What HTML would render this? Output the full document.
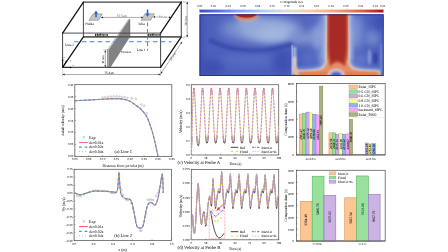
<!DOCTYPE html>
<html lang="en"><head><meta charset="utf-8"><title>Figure</title>
<style>html,body{margin:0;padding:0;background:#fff;overflow:hidden}svg{display:block}</style></head>
<body>
<svg width="448" height="252" viewBox="0 0 448 252" font-family='"Liberation Serif", serif' text-rendering="geometricPrecision">
<defs>
<clipPath id="hm"><rect x="199.5" y="14.3" width="184.2" height="61.6"/></clipPath>
<filter id="b05" x="-50%" y="-50%" width="200%" height="200%"><feGaussianBlur stdDeviation="0.5"/></filter>
<filter id="b1" x="-50%" y="-50%" width="200%" height="200%"><feGaussianBlur stdDeviation="1"/></filter>
<filter id="b15" x="-50%" y="-50%" width="200%" height="200%"><feGaussianBlur stdDeviation="1.5"/></filter>
<filter id="b2" x="-50%" y="-50%" width="200%" height="200%"><feGaussianBlur stdDeviation="2"/></filter>
<filter id="b3" x="-50%" y="-50%" width="200%" height="200%"><feGaussianBlur stdDeviation="3"/></filter>
<filter id="b4" x="-50%" y="-50%" width="200%" height="200%"><feGaussianBlur stdDeviation="4"/></filter>
<filter id="b6" x="-50%" y="-50%" width="200%" height="200%"><feGaussianBlur stdDeviation="6"/></filter>
<linearGradient id="cw" x1="0" x2="1" y1="0" y2="0">
<stop offset="0" stop-color="#3b4cc0"/><stop offset="0.1" stop-color="#5572df"/><stop offset="0.2" stop-color="#7b9ff9"/>
<stop offset="0.3" stop-color="#9ebeff"/><stop offset="0.4" stop-color="#c0d4f5"/><stop offset="0.5" stop-color="#dddcdc"/>
<stop offset="0.6" stop-color="#f2cbb7"/><stop offset="0.7" stop-color="#f7ac8e"/><stop offset="0.8" stop-color="#ee8468"/>
<stop offset="0.9" stop-color="#d65244"/><stop offset="1" stop-color="#b40426"/></linearGradient>
</defs>
<rect width="448" height="252" fill="#fff"/>
<line x1="83.40" y1="2.10" x2="83.40" y2="36.90" stroke="#333" stroke-width="0.9"/>
<line x1="83.40" y1="36.90" x2="181.30" y2="36.90" stroke="#3a3a3a" stroke-width="1.0"/>
<path d="M107.70 67.40L107.70 49.60L128.50 19.50L130.00 19.50L130.00 36.40L110.20 67.40Z" fill="#828282" stroke="#5a5a5a" stroke-width="0.35"/>
<path d="M107.70 67.40L107.70 49.60L128.50 19.50L129.10 19.70L108.60 49.90L108.60 67.40Z" fill="#d8d8d8"/>
<line x1="107.70" y1="67.40" x2="107.70" y2="49.60" stroke="#444" stroke-width="0.4"/>
<line x1="83.40" y1="36.90" x2="181.30" y2="36.90" stroke="#3a3a3a" stroke-width="0.9"/>
<line x1="83.40" y1="2.10" x2="181.30" y2="2.10" stroke="#444" stroke-width="1.15" stroke-linecap="round"/>
<line x1="62.60" y1="33.10" x2="160.60" y2="33.10" stroke="#484848" stroke-width="0.95" stroke-linecap="round"/>
<line x1="62.60" y1="33.10" x2="62.60" y2="67.40" stroke="#404040" stroke-width="1.0" stroke-linecap="round"/>
<line x1="160.60" y1="33.10" x2="160.60" y2="67.40" stroke="#484848" stroke-width="1.0" stroke-linecap="round"/>
<line x1="62.60" y1="67.40" x2="160.60" y2="67.40" stroke="#505050" stroke-width="1.1" stroke-linecap="round"/>
<line x1="181.30" y1="2.10" x2="181.30" y2="36.90" stroke="#4c4c4c" stroke-width="1.1" stroke-linecap="round"/>
<line x1="83.40" y1="2.10" x2="62.60" y2="33.10" stroke="#111" stroke-width="1.25" stroke-linecap="round"/>
<line x1="181.30" y1="2.10" x2="160.60" y2="33.10" stroke="#111" stroke-width="1.25" stroke-linecap="round"/>
<line x1="160.60" y1="67.40" x2="181.30" y2="36.90" stroke="#111" stroke-width="1.25" stroke-linecap="round"/>
<line x1="62.60" y1="67.40" x2="83.40" y2="36.90" stroke="#111" stroke-width="1.25" stroke-linecap="round"/>
<line x1="73.90" y1="41.70" x2="171.60" y2="41.70" stroke="#4a82dc" stroke-width="1.1" stroke-dasharray="4.6 3.3"/>
<line x1="147.50" y1="22.40" x2="147.50" y2="50.60" stroke="#4a82dc" stroke-width="1.0" stroke-dasharray="4.0 2.6"/>
<path d="M88.90 20.30L92.90 13.90L102.40 13.90L98.40 20.30Z" fill="#c6c6c6" stroke="#777" stroke-width="0.5"/>
<path d="M141.00 20.20L145.00 13.80L154.50 13.80L150.50 20.20Z" fill="#c6c6c6" stroke="#777" stroke-width="0.5"/>
<path d="M96.0 17.3V13.2" stroke="#1f62d0" stroke-width="1.5"/><path d="M94.0 13.8L96.0 10.6L98.0 13.8Z" fill="#1f62d0"/>
<path d="M147.5 9.5V13.8" stroke="#1f62d0" stroke-width="1.5"/><path d="M145.5 13.4L147.5 16.9L149.5 13.4Z" fill="#1f62d0"/>
<text x="89.60" y="25.40" font-size="3.4" text-anchor="middle" fill="#2a2a2a" stroke="#2a2a2a" stroke-width="0.05">Outlet</text>
<text x="141.60" y="25.40" font-size="3.4" text-anchor="middle" fill="#2a2a2a" stroke="#2a2a2a" stroke-width="0.05">Inlet</text>
<line x1="101.20" y1="17.40" x2="143.00" y2="17.40" stroke="#444" stroke-width="0.45"/>
<line x1="154.20" y1="17.00" x2="156.40" y2="17.00" stroke="#444" stroke-width="0.45"/>
<line x1="167.60" y1="17.30" x2="170.60" y2="17.30" stroke="#444" stroke-width="0.45"/>
<path d="M101.0 17.4l2.0 -0.9v1.8zM143.2 17.4l-2.0 -0.9v1.8zM153.0 17.0l2.0 -0.9v1.8zM171.0 17.4l-2.0 -0.9v1.8z" fill="#222"/>
<text x="121.80" y="17.00" font-size="3.4" text-anchor="middle" fill="#3a3a3a">37.5cm</text>
<text x="162.00" y="17.50" font-size="3.4" text-anchor="middle" fill="#3a3a3a">19.0cm</text>
<line x1="187.20" y1="2.10" x2="187.20" y2="36.90" stroke="#444" stroke-width="0.45"/>
<line x1="183.00" y1="2.10" x2="188.60" y2="2.10" stroke="#555" stroke-width="0.35"/>
<line x1="183.00" y1="36.90" x2="188.60" y2="36.90" stroke="#555" stroke-width="0.35"/>
<path d="M187.2 2.1l-0.9 2.0h1.8zM187.2 36.9l-0.9 -2.0h1.8z" fill="#222"/>
<text x="186.60" y="20.80" font-size="3.3" text-anchor="middle" fill="#3a3a3a" transform="rotate(-90 186.60 20.80)">30.5cm</text>
<rect x="95.0" y="34.1" width="12.8" height="1.9" fill="#2a2a2a"/><rect x="147.6" y="34.1" width="12.5" height="1.9" fill="#2a2a2a"/>
<text x="101.40" y="36.20" font-size="3.7" text-anchor="middle" fill="#fff" stroke="#2a2a2a" stroke-width="0.7" paint-order="stroke" font-weight="bold">15.2cm</text>
<text x="153.90" y="36.20" font-size="3.7" text-anchor="middle" fill="#fff" stroke="#2a2a2a" stroke-width="0.7" paint-order="stroke" font-weight="bold">15.2cm</text>
<text x="69.60" y="46.30" font-size="3.3" text-anchor="middle" fill="#2a2a2a" stroke="#2a2a2a" stroke-width="0.05">Line 2</text>
<text x="141.00" y="50.90" font-size="3.3" text-anchor="middle" fill="#2a2a2a" stroke="#2a2a2a" stroke-width="0.05">Line 1</text>
<text x="126.30" y="52.50" font-size="2.9" text-anchor="middle" fill="#2a2a2a" stroke="#2a2a2a" stroke-width="0.05">Partition</text>
<line x1="105.30" y1="50.60" x2="105.30" y2="66.80" stroke="#444" stroke-width="0.45"/>
<line x1="103.40" y1="49.80" x2="107.40" y2="49.80" stroke="#555" stroke-width="0.35"/>
<path d="M105.3 50.2l-0.9 2.0h1.8zM105.3 67.2l-0.9 -2.0h1.8z" fill="#222"/>
<text x="104.00" y="59.40" font-size="2.8" text-anchor="middle" fill="#2a2a2a" transform="rotate(-90 104.00 59.40)" stroke="#2a2a2a" stroke-width="0.05">17.5cm</text>
<path d="M62.6 67.4V60M62.6 67.4H70.4M62.6 67.4L66.4 61.4" stroke="#111" stroke-width="0.7" fill="none"/>
<path d="M62.6 58.6l-1.0 2.0h2.0zM72.0 67.4l-2.0 -1.0v2.0zM67.1 60.3l-1.9 1.2l1.5 1.0z" fill="#111"/>
<text x="64.00" y="58.40" font-size="2.4" text-anchor="middle" fill="#2a2a2a" stroke="#2a2a2a" stroke-width="0.05">z</text>
<text x="70.40" y="60.80" font-size="2.4" text-anchor="middle" fill="#2a2a2a" stroke="#2a2a2a" stroke-width="0.05">y</text>
<text x="73.00" y="65.80" font-size="2.4" text-anchor="middle" fill="#2a2a2a" stroke="#2a2a2a" stroke-width="0.05">x</text>
<line x1="62.60" y1="69.00" x2="62.60" y2="76.40" stroke="#888" stroke-width="0.35"/>
<line x1="160.60" y1="69.00" x2="160.60" y2="76.40" stroke="#888" stroke-width="0.35"/>
<line x1="62.60" y1="74.50" x2="160.60" y2="74.50" stroke="#444" stroke-width="0.45"/>
<path d="M62.6 74.5l2.0 -0.9v1.8zM160.6 74.5l-2.0 -0.9v1.8z" fill="#222"/>
<text x="109.30" y="74.20" font-size="3.3" text-anchor="middle" fill="#2a2a2a" stroke="#2a2a2a" stroke-width="0.05">75.4cm</text>
<line x1="160.80" y1="73.70" x2="182.00" y2="41.80" stroke="#444" stroke-width="0.45"/>
<line x1="181.30" y1="36.90" x2="184.60" y2="39.00" stroke="#666" stroke-width="0.3"/>
<path d="M160.8 73.7l0.3 -2.2l1.5 1.0zM182.0 41.8l-0.3 2.2l-1.5 -1.0z" fill="#222"/>
<text x="173.60" y="57.00" font-size="3.2" text-anchor="middle" fill="#3a3a3a" transform="rotate(-56 173.60 57.00)">30.5cm</text>
<text x="291.50" y="3.40" font-size="3.2" text-anchor="middle" fill="#333" stroke="#333" stroke-width="0.05">U Magnitude m/s</text>
<text x="199.70" y="6.75" font-size="2.95" text-anchor="middle" fill="#333" stroke="#333" stroke-width="0.05">0.00</text>
<line x1="199.50" y1="8.60" x2="199.50" y2="9.60" stroke="#666" stroke-width="0.3"/>
<text x="213.42" y="6.75" font-size="2.95" text-anchor="middle" fill="#333" stroke="#333" stroke-width="0.05">0.02</text>
<line x1="214.22" y1="8.60" x2="214.22" y2="9.60" stroke="#666" stroke-width="0.3"/>
<text x="228.14" y="6.75" font-size="2.95" text-anchor="middle" fill="#333" stroke="#333" stroke-width="0.05">0.04</text>
<line x1="228.94" y1="8.60" x2="228.94" y2="9.60" stroke="#666" stroke-width="0.3"/>
<text x="242.86" y="6.75" font-size="2.95" text-anchor="middle" fill="#333" stroke="#333" stroke-width="0.05">0.06</text>
<line x1="243.66" y1="8.60" x2="243.66" y2="9.60" stroke="#666" stroke-width="0.3"/>
<text x="257.58" y="6.75" font-size="2.95" text-anchor="middle" fill="#333" stroke="#333" stroke-width="0.05">0.08</text>
<line x1="258.38" y1="8.60" x2="258.38" y2="9.60" stroke="#666" stroke-width="0.3"/>
<text x="272.30" y="6.75" font-size="2.95" text-anchor="middle" fill="#333" stroke="#333" stroke-width="0.05">0.10</text>
<line x1="273.10" y1="8.60" x2="273.10" y2="9.60" stroke="#666" stroke-width="0.3"/>
<text x="287.02" y="6.75" font-size="2.95" text-anchor="middle" fill="#333" stroke="#333" stroke-width="0.05">0.12</text>
<line x1="287.82" y1="8.60" x2="287.82" y2="9.60" stroke="#666" stroke-width="0.3"/>
<text x="301.74" y="6.75" font-size="2.95" text-anchor="middle" fill="#333" stroke="#333" stroke-width="0.05">0.14</text>
<line x1="302.54" y1="8.60" x2="302.54" y2="9.60" stroke="#666" stroke-width="0.3"/>
<text x="316.46" y="6.75" font-size="2.95" text-anchor="middle" fill="#333" stroke="#333" stroke-width="0.05">0.16</text>
<line x1="317.26" y1="8.60" x2="317.26" y2="9.60" stroke="#666" stroke-width="0.3"/>
<text x="331.18" y="6.75" font-size="2.95" text-anchor="middle" fill="#333" stroke="#333" stroke-width="0.05">0.18</text>
<line x1="331.98" y1="8.60" x2="331.98" y2="9.60" stroke="#666" stroke-width="0.3"/>
<text x="345.90" y="6.75" font-size="2.95" text-anchor="middle" fill="#333" stroke="#333" stroke-width="0.05">0.20</text>
<line x1="346.70" y1="8.60" x2="346.70" y2="9.60" stroke="#666" stroke-width="0.3"/>
<text x="360.62" y="6.75" font-size="2.95" text-anchor="middle" fill="#333" stroke="#333" stroke-width="0.05">0.22</text>
<line x1="361.42" y1="8.60" x2="361.42" y2="9.60" stroke="#666" stroke-width="0.3"/>
<text x="375.34" y="6.75" font-size="2.95" text-anchor="middle" fill="#333" stroke="#333" stroke-width="0.05">0.24</text>
<line x1="376.14" y1="8.60" x2="376.14" y2="9.60" stroke="#666" stroke-width="0.3"/>
<text x="382.60" y="6.75" font-size="2.95" text-anchor="middle" fill="#333" stroke="#333" stroke-width="0.05">0.25</text>
<rect x="199.5" y="9.6" width="184" height="2.9" fill="url(#cw)"/>
<g clip-path="url(#hm)">
<rect x="199" y="14" width="185" height="62" fill="#4c60bc"/>
<ellipse cx="262" cy="29" rx="42" ry="12" fill="#8095d2" filter="url(#b6)"/>
<ellipse cx="268" cy="30" rx="30" ry="9" fill="#8ea2d8" filter="url(#b4)"/>
<ellipse cx="268" cy="31" rx="22" ry="9" fill="#9aaddc" filter="url(#b4)"/>
<ellipse cx="274" cy="34" rx="16" ry="6" fill="#a3b5e0" filter="url(#b3)"/>
<ellipse cx="250" cy="22" rx="12" ry="7" fill="#93a6d8" filter="url(#b3)"/>
<ellipse cx="303" cy="38" rx="16" ry="6" fill="#8497d2" filter="url(#b4)"/>
<path d="M209 40Q250 60 292 44" stroke="#3a4cae" stroke-width="4.5" fill="none" filter="url(#b15)"/>
<ellipse cx="250" cy="60" rx="32" ry="5" fill="#5a70c4" filter="url(#b4)"/>
<ellipse cx="210" cy="68" rx="14" ry="8" fill="#3c4eb0" filter="url(#b4)"/>
<rect x="196" y="14" width="7" height="62" fill="#3f51b4" filter="url(#b3)"/>
<ellipse cx="282" cy="62" rx="10" ry="12" fill="#3d4fb2" filter="url(#b4)"/>
<ellipse cx="318" cy="34" rx="7" ry="18" fill="#8a9ed8" filter="url(#b3)"/>
<ellipse cx="312" cy="20" rx="8" ry="7" fill="#5468c0" filter="url(#b3)"/>
<ellipse cx="310" cy="58" rx="9" ry="9" fill="#566cc2" filter="url(#b3)"/>
<ellipse cx="321" cy="56" rx="3.5" ry="10" fill="#7288cc" filter="url(#b2)"/>
<ellipse cx="356" cy="32" rx="7" ry="18" fill="#7e93d4" filter="url(#b4)"/>
<ellipse cx="372" cy="38" rx="8" ry="8" fill="#6e84cc" filter="url(#b3)"/>
<ellipse cx="360" cy="60" rx="8" ry="7" fill="#6076c6" filter="url(#b3)"/>
<ellipse cx="369.5" cy="57" rx="1.8" ry="8" fill="#8297d6" filter="url(#b1)"/>
<ellipse cx="375.5" cy="58" rx="2.4" ry="5.5" fill="#3444a6" filter="url(#b1)"/>
<ellipse cx="380" cy="22" rx="5" ry="8" fill="#3c4eb0" filter="url(#b3)"/>
<rect x="380" y="44" width="3" height="28" fill="#6a80cc" filter="url(#b1)"/>
<rect x="322.5" y="8" width="30" height="52" fill="#9db0e0" filter="url(#b2)"/>
<path d="M324.1 30V57.04Q323.8 64.9 318.3 67.03999999999999Q311.8 68.78 300 69.08H296.0V78H380.46V69.08Q362.2 68.78 356.7 67.03999999999999Q351.2 64.9 350.8 58.04V30Z" fill="#9db0e0" filter="url(#b2)"/>
<rect x="292.8" y="47" width="3.6" height="25" fill="#a3b5e2" filter="url(#b1)"/>
<rect x="293.0" y="57" width="3.0" height="16" fill="#e0cfc4" filter="url(#b1)"/>
<path d="M293 66V75H303V71.5Q297 71.5 296 66Z" fill="#e3b79e" filter="url(#b1)"/>
<rect x="326.0" y="8" width="23.2" height="52" fill="#ddd3d0" filter="url(#b1)"/>
<path d="M326.0 30V57.61Q325.7 65.85 320.2 68.55999999999999Q313.7 70.395 300 70.695H296.95000000000005V78H379.89V70.695Q360.3 70.395 354.8 68.55999999999999Q349.3 65.85 348.90000000000003 58.61V30Z" fill="#ddd3d0" filter="url(#b1)"/>
<rect x="327.0" y="8" width="21.2" height="52" fill="#de8e68" filter="url(#b05)"/>
<path d="M327.3 30V58.0Q327.0 66.5 321.5 69.6Q315.0 71.5 300 71.8H297.6V78H379.5V71.8Q359.0 71.5 353.5 69.6Q348.0 66.5 347.6 59.0V30Z" fill="#e39068" filter="url(#b1)"/>
<rect x="299" y="72.4" width="78" height="2.6" fill="#e6764a" filter="url(#b1)"/>
<path d="M327.9 8H347.3V48Q347.2 60 344.6 67Q341.5 62.6 337.4 62.6Q333 62.6 330.2 67Q328.0 60 327.9 48Z" fill="#bf4a32" filter="url(#b1)"/>
<path d="M328.9 8H346.3V42Q346.2 55 343.2 63.5Q340.6 60 337.4 60Q334 60 331.8 63.5Q329.0 55 328.9 42Z" fill="#a62926" filter="url(#b1)"/>
<ellipse cx="336.2" cy="75.5" rx="8.6" ry="6.6" fill="#dfd3cc" filter="url(#b1)"/>
<ellipse cx="336.2" cy="76" rx="6.4" ry="5.0" fill="#6f8ad4" filter="url(#b1)"/>
<ellipse cx="336.2" cy="76.2" rx="4.0" ry="3.0" fill="#3a54bc" filter="url(#b1)"/>
<ellipse cx="246.2" cy="15" rx="12" ry="6" fill="#cfa690" filter="url(#b15)"/>
<ellipse cx="246.2" cy="14.6" rx="10.8" ry="4.0" fill="#cc5a40" filter="url(#b1)"/>
<ellipse cx="246.2" cy="14.2" rx="10.0" ry="3.3" fill="#a32624" filter="url(#b05)"/>
<rect x="291.7" y="45" width="0.9" height="32" fill="#c3cdea" filter="url(#b05)"/>
<rect x="199.95" y="14.75" width="183.3" height="60.8" fill="none" stroke="#212f8c" stroke-width="1.0"/>
</g>
<rect x="74.8" y="84.65" width="97.00000000000001" height="71.75" fill="#fff" stroke="#606060" stroke-width="0.8"/>
<line x1="81.73" y1="156.40" x2="81.73" y2="155.60" stroke="#555" stroke-width="0.3"/>
<line x1="95.59" y1="156.40" x2="95.59" y2="155.60" stroke="#555" stroke-width="0.3"/>
<line x1="109.44" y1="156.40" x2="109.44" y2="155.60" stroke="#555" stroke-width="0.3"/>
<line x1="123.30" y1="156.40" x2="123.30" y2="155.60" stroke="#555" stroke-width="0.3"/>
<line x1="137.16" y1="156.40" x2="137.16" y2="155.60" stroke="#555" stroke-width="0.3"/>
<line x1="151.01" y1="156.40" x2="151.01" y2="155.60" stroke="#555" stroke-width="0.3"/>
<line x1="164.87" y1="156.40" x2="164.87" y2="155.60" stroke="#555" stroke-width="0.3"/>
<line x1="74.80" y1="90.63" x2="75.60" y2="90.63" stroke="#555" stroke-width="0.3"/>
<line x1="74.80" y1="102.59" x2="75.60" y2="102.59" stroke="#555" stroke-width="0.3"/>
<line x1="74.80" y1="114.55" x2="75.60" y2="114.55" stroke="#555" stroke-width="0.3"/>
<line x1="74.80" y1="126.50" x2="75.60" y2="126.50" stroke="#555" stroke-width="0.3"/>
<line x1="74.80" y1="138.46" x2="75.60" y2="138.46" stroke="#555" stroke-width="0.3"/>
<line x1="74.80" y1="150.42" x2="75.60" y2="150.42" stroke="#555" stroke-width="0.3"/>
<line x1="74.80" y1="156.40" x2="74.80" y2="155.20" stroke="#444" stroke-width="0.4"/>
<text x="74.80" y="160.20" font-size="3.1" text-anchor="middle" fill="#2a2a2a" stroke="#2a2a2a" stroke-width="0.05">0.00</text>
<line x1="88.66" y1="156.40" x2="88.66" y2="155.20" stroke="#444" stroke-width="0.4"/>
<text x="88.66" y="160.20" font-size="3.1" text-anchor="middle" fill="#2a2a2a" stroke="#2a2a2a" stroke-width="0.05">0.05</text>
<line x1="102.51" y1="156.40" x2="102.51" y2="155.20" stroke="#444" stroke-width="0.4"/>
<text x="102.51" y="160.20" font-size="3.1" text-anchor="middle" fill="#2a2a2a" stroke="#2a2a2a" stroke-width="0.05">0.10</text>
<line x1="116.37" y1="156.40" x2="116.37" y2="155.20" stroke="#444" stroke-width="0.4"/>
<text x="116.37" y="160.20" font-size="3.1" text-anchor="middle" fill="#2a2a2a" stroke="#2a2a2a" stroke-width="0.05">0.15</text>
<line x1="130.23" y1="156.40" x2="130.23" y2="155.20" stroke="#444" stroke-width="0.4"/>
<text x="130.23" y="160.20" font-size="3.1" text-anchor="middle" fill="#2a2a2a" stroke="#2a2a2a" stroke-width="0.05">0.20</text>
<line x1="144.09" y1="156.40" x2="144.09" y2="155.20" stroke="#444" stroke-width="0.4"/>
<text x="144.09" y="160.20" font-size="3.1" text-anchor="middle" fill="#2a2a2a" stroke="#2a2a2a" stroke-width="0.05">0.25</text>
<line x1="157.94" y1="156.40" x2="157.94" y2="155.20" stroke="#444" stroke-width="0.4"/>
<text x="157.94" y="160.20" font-size="3.1" text-anchor="middle" fill="#2a2a2a" stroke="#2a2a2a" stroke-width="0.05">0.30</text>
<line x1="171.80" y1="156.40" x2="171.80" y2="155.20" stroke="#444" stroke-width="0.4"/>
<text x="171.80" y="160.20" font-size="3.1" text-anchor="middle" fill="#2a2a2a" stroke="#2a2a2a" stroke-width="0.05">0.35</text>
<line x1="74.80" y1="156.40" x2="76.00" y2="156.40" stroke="#222" stroke-width="0.35"/>
<text x="73.30" y="157.40" font-size="3.1" text-anchor="end" fill="#2a2a2a" stroke="#2a2a2a" stroke-width="0.05">0.00</text>
<line x1="74.80" y1="144.44" x2="76.00" y2="144.44" stroke="#222" stroke-width="0.35"/>
<text x="73.30" y="145.44" font-size="3.1" text-anchor="end" fill="#2a2a2a" stroke="#2a2a2a" stroke-width="0.05">0.05</text>
<line x1="74.80" y1="132.48" x2="76.00" y2="132.48" stroke="#222" stroke-width="0.35"/>
<text x="73.30" y="133.48" font-size="3.1" text-anchor="end" fill="#2a2a2a" stroke="#2a2a2a" stroke-width="0.05">0.10</text>
<line x1="74.80" y1="120.53" x2="76.00" y2="120.53" stroke="#222" stroke-width="0.35"/>
<text x="73.30" y="121.53" font-size="3.1" text-anchor="end" fill="#2a2a2a" stroke="#2a2a2a" stroke-width="0.05">0.15</text>
<line x1="74.80" y1="108.57" x2="76.00" y2="108.57" stroke="#222" stroke-width="0.35"/>
<text x="73.30" y="109.57" font-size="3.1" text-anchor="end" fill="#2a2a2a" stroke="#2a2a2a" stroke-width="0.05">0.20</text>
<line x1="74.80" y1="96.61" x2="76.00" y2="96.61" stroke="#222" stroke-width="0.35"/>
<text x="73.30" y="97.61" font-size="3.1" text-anchor="end" fill="#2a2a2a" stroke="#2a2a2a" stroke-width="0.05">0.25</text>
<line x1="74.80" y1="84.65" x2="76.00" y2="84.65" stroke="#222" stroke-width="0.35"/>
<text x="73.30" y="85.65" font-size="3.1" text-anchor="end" fill="#2a2a2a" stroke="#2a2a2a" stroke-width="0.05">0.30</text>
<path d="M74.80 100.67C77.11 100.57 84.04 100.32 88.66 100.08C93.28 99.84 97.90 99.48 102.51 99.24C107.13 99.00 112.68 98.60 116.37 98.64C120.07 98.68 122.38 99.02 124.69 99.48C127.00 99.94 128.38 100.44 130.23 101.39C132.08 102.35 133.92 103.86 135.77 105.22C137.62 106.57 139.47 107.57 141.31 109.52C143.16 111.48 145.24 113.91 146.86 116.94C148.47 119.97 149.86 124.31 151.01 127.70C152.17 131.09 152.95 134.08 153.79 137.27C154.62 140.46 155.31 143.64 156.00 146.83C156.70 150.02 157.62 154.81 157.94 156.40" fill="none" stroke="#f2665b" stroke-width="1.05"/>
<path d="M74.80 100.67C77.11 100.57 84.04 100.32 88.66 100.08C93.28 99.84 97.90 99.48 102.51 99.24C107.13 99.00 112.68 98.60 116.37 98.64C120.07 98.68 122.38 99.02 124.69 99.48C127.00 99.94 128.38 100.44 130.23 101.39C132.08 102.35 133.92 103.86 135.77 105.22C137.62 106.57 139.47 107.57 141.31 109.52C143.16 111.48 145.24 113.91 146.86 116.94C148.47 119.97 149.86 124.31 151.01 127.70C152.17 131.09 152.95 134.08 153.79 137.27C154.62 140.46 155.31 143.64 156.00 146.83C156.70 150.02 157.62 154.81 157.94 156.40" fill="none" stroke="#4496e6" stroke-width="1.15" stroke-dasharray="2.6 1.9"/>
<path d="M74.80 100.67C77.11 100.57 84.04 100.32 88.66 100.08C93.28 99.84 97.90 99.48 102.51 99.24C107.13 99.00 112.68 98.60 116.37 98.64C120.07 98.68 122.38 99.02 124.69 99.48C127.00 99.94 128.38 100.44 130.23 101.39C132.08 102.35 133.92 103.86 135.77 105.22C137.62 106.57 139.47 107.57 141.31 109.52C143.16 111.48 145.24 113.91 146.86 116.94C148.47 119.97 149.86 124.31 151.01 127.70C152.17 131.09 152.95 134.08 153.79 137.27C154.62 140.46 155.31 143.64 156.00 146.83C156.70 150.02 157.62 154.81 157.94 156.40" fill="none" stroke="#8fe0a4" stroke-width="0.8" stroke-dasharray="0.8 3.7" stroke-dashoffset="-3.0"/>
<circle cx="102.51" cy="97.56" r="0.85" fill="none" stroke="#8c8c8c" stroke-width="0.4"/>
<circle cx="105.29" cy="97.33" r="0.85" fill="none" stroke="#8c8c8c" stroke-width="0.4"/>
<circle cx="108.06" cy="96.85" r="0.85" fill="none" stroke="#8c8c8c" stroke-width="0.4"/>
<circle cx="110.83" cy="96.61" r="0.85" fill="none" stroke="#8c8c8c" stroke-width="0.4"/>
<circle cx="113.60" cy="96.37" r="0.85" fill="none" stroke="#8c8c8c" stroke-width="0.4"/>
<circle cx="116.37" cy="96.37" r="0.85" fill="none" stroke="#8c8c8c" stroke-width="0.4"/>
<circle cx="119.14" cy="96.61" r="0.85" fill="none" stroke="#8c8c8c" stroke-width="0.4"/>
<circle cx="121.91" cy="96.85" r="0.85" fill="none" stroke="#8c8c8c" stroke-width="0.4"/>
<circle cx="124.69" cy="97.33" r="0.85" fill="none" stroke="#8c8c8c" stroke-width="0.4"/>
<circle cx="127.46" cy="97.80" r="0.85" fill="none" stroke="#8c8c8c" stroke-width="0.4"/>
<circle cx="131.61" cy="98.28" r="0.85" fill="none" stroke="#8c8c8c" stroke-width="0.4"/>
<circle cx="135.77" cy="99.00" r="0.85" fill="none" stroke="#8c8c8c" stroke-width="0.4"/>
<circle cx="141.31" cy="104.50" r="0.85" fill="none" stroke="#8c8c8c" stroke-width="0.4"/>
<circle cx="144.09" cy="105.70" r="0.85" fill="none" stroke="#8c8c8c" stroke-width="0.4"/>
<circle cx="146.86" cy="113.35" r="0.85" fill="none" stroke="#8c8c8c" stroke-width="0.4"/>
<text x="64.30" y="120.60" font-size="3.85" text-anchor="middle" fill="#2a2a2a" transform="rotate(-90 64.30 120.60)" stroke="#2a2a2a" stroke-width="0.05">Axial velocity (m/s)</text>
<text x="123.10" y="167.00" font-size="3.85" text-anchor="middle" fill="#2a2a2a" stroke="#2a2a2a" stroke-width="0.05">Distance from jet inlet (m)</text>
<circle cx="83.8" cy="137.3" r="0.9" fill="none" stroke="#8a8a8a" stroke-width="0.4"/>
<text x="89.00" y="138.60" font-size="4.0" text-anchor="start" fill="#2a2a2a" stroke="#2a2a2a" stroke-width="0.05">Exp</text>
<line x1="79.10" y1="142.45" x2="87.90" y2="142.45" stroke="#f2453a" stroke-width="0.8"/>
<text x="89.00" y="143.65" font-size="3.95" text-anchor="start" fill="#2a2a2a" stroke="#2a2a2a" stroke-width="0.05">Δt=0.01s</text>
<line x1="79.10" y1="147.10" x2="87.90" y2="147.10" stroke="#338ade" stroke-width="1.1" stroke-dasharray="2.5 3.2"/>
<text x="89.00" y="148.40" font-size="3.95" text-anchor="start" fill="#2a2a2a" stroke="#2a2a2a" stroke-width="0.05">Δt=0.02s</text>
<line x1="79.00" y1="151.60" x2="87.90" y2="151.60" stroke="#6fd08a" stroke-width="0.9" stroke-dasharray="0.9 2.25"/>
<text x="89.00" y="152.90" font-size="3.95" text-anchor="start" fill="#2a2a2a" stroke="#2a2a2a" stroke-width="0.05">Δt=0.04s</text>
<text x="123.20" y="153.40" font-size="4.45" text-anchor="middle" fill="#2a2a2a" stroke="#2a2a2a" stroke-width="0.05">(a) Line 1</text>
<rect x="74.1" y="169.3" width="97.4" height="71.19999999999999" fill="#fff" stroke="#606060" stroke-width="0.8"/>
<line x1="83.84" y1="240.50" x2="83.84" y2="239.70" stroke="#555" stroke-width="0.3"/>
<line x1="103.32" y1="240.50" x2="103.32" y2="239.70" stroke="#555" stroke-width="0.3"/>
<line x1="122.80" y1="240.50" x2="122.80" y2="239.70" stroke="#555" stroke-width="0.3"/>
<line x1="142.28" y1="240.50" x2="142.28" y2="239.70" stroke="#555" stroke-width="0.3"/>
<line x1="161.76" y1="240.50" x2="161.76" y2="239.70" stroke="#555" stroke-width="0.3"/>
<line x1="74.10" y1="173.26" x2="74.90" y2="173.26" stroke="#555" stroke-width="0.3"/>
<line x1="74.10" y1="181.17" x2="74.90" y2="181.17" stroke="#555" stroke-width="0.3"/>
<line x1="74.10" y1="189.08" x2="74.90" y2="189.08" stroke="#555" stroke-width="0.3"/>
<line x1="74.10" y1="196.99" x2="74.90" y2="196.99" stroke="#555" stroke-width="0.3"/>
<line x1="74.10" y1="204.90" x2="74.90" y2="204.90" stroke="#555" stroke-width="0.3"/>
<line x1="74.10" y1="212.81" x2="74.90" y2="212.81" stroke="#555" stroke-width="0.3"/>
<line x1="74.10" y1="220.72" x2="74.90" y2="220.72" stroke="#555" stroke-width="0.3"/>
<line x1="74.10" y1="228.63" x2="74.90" y2="228.63" stroke="#555" stroke-width="0.3"/>
<line x1="74.10" y1="236.54" x2="74.90" y2="236.54" stroke="#555" stroke-width="0.3"/>
<line x1="74.10" y1="240.50" x2="74.10" y2="239.30" stroke="#222" stroke-width="0.35"/>
<text x="74.10" y="244.60" font-size="3.1" text-anchor="middle" fill="#2a2a2a" stroke="#2a2a2a" stroke-width="0.05">0.0</text>
<line x1="93.58" y1="240.50" x2="93.58" y2="239.30" stroke="#222" stroke-width="0.35"/>
<text x="93.58" y="244.60" font-size="3.1" text-anchor="middle" fill="#2a2a2a" stroke="#2a2a2a" stroke-width="0.05">0.2</text>
<line x1="113.06" y1="240.50" x2="113.06" y2="239.30" stroke="#222" stroke-width="0.35"/>
<text x="113.06" y="244.60" font-size="3.1" text-anchor="middle" fill="#2a2a2a" stroke="#2a2a2a" stroke-width="0.05">0.4</text>
<line x1="132.54" y1="240.50" x2="132.54" y2="239.30" stroke="#222" stroke-width="0.35"/>
<text x="132.54" y="244.60" font-size="3.1" text-anchor="middle" fill="#2a2a2a" stroke="#2a2a2a" stroke-width="0.05">0.6</text>
<line x1="152.02" y1="240.50" x2="152.02" y2="239.30" stroke="#222" stroke-width="0.35"/>
<text x="152.02" y="244.60" font-size="3.1" text-anchor="middle" fill="#2a2a2a" stroke="#2a2a2a" stroke-width="0.05">0.8</text>
<line x1="171.50" y1="240.50" x2="171.50" y2="239.30" stroke="#222" stroke-width="0.35"/>
<text x="171.50" y="244.60" font-size="3.1" text-anchor="middle" fill="#2a2a2a" stroke="#2a2a2a" stroke-width="0.05">1.0</text>
<line x1="74.10" y1="169.30" x2="75.30" y2="169.30" stroke="#222" stroke-width="0.35"/>
<text x="72.60" y="170.30" font-size="3.1" text-anchor="end" fill="#2a2a2a" stroke="#2a2a2a" stroke-width="0.05">0.15</text>
<line x1="74.10" y1="177.21" x2="75.30" y2="177.21" stroke="#222" stroke-width="0.35"/>
<text x="72.60" y="178.21" font-size="3.1" text-anchor="end" fill="#2a2a2a" stroke="#2a2a2a" stroke-width="0.05">0.10</text>
<line x1="74.10" y1="185.12" x2="75.30" y2="185.12" stroke="#222" stroke-width="0.35"/>
<text x="72.60" y="186.12" font-size="3.1" text-anchor="end" fill="#2a2a2a" stroke="#2a2a2a" stroke-width="0.05">0.05</text>
<line x1="74.10" y1="193.03" x2="75.30" y2="193.03" stroke="#222" stroke-width="0.35"/>
<text x="72.60" y="194.03" font-size="3.1" text-anchor="end" fill="#2a2a2a" stroke="#2a2a2a" stroke-width="0.05">0.00</text>
<line x1="74.10" y1="200.94" x2="75.30" y2="200.94" stroke="#222" stroke-width="0.35"/>
<text x="72.60" y="201.94" font-size="3.1" text-anchor="end" fill="#2a2a2a" stroke="#2a2a2a" stroke-width="0.05">-0.05</text>
<line x1="74.10" y1="208.86" x2="75.30" y2="208.86" stroke="#222" stroke-width="0.35"/>
<text x="72.60" y="209.86" font-size="3.1" text-anchor="end" fill="#2a2a2a" stroke="#2a2a2a" stroke-width="0.05">-0.10</text>
<line x1="74.10" y1="216.77" x2="75.30" y2="216.77" stroke="#222" stroke-width="0.35"/>
<text x="72.60" y="217.77" font-size="3.1" text-anchor="end" fill="#2a2a2a" stroke="#2a2a2a" stroke-width="0.05">-0.15</text>
<line x1="74.10" y1="224.68" x2="75.30" y2="224.68" stroke="#222" stroke-width="0.35"/>
<text x="72.60" y="225.68" font-size="3.1" text-anchor="end" fill="#2a2a2a" stroke="#2a2a2a" stroke-width="0.05">-0.20</text>
<line x1="74.10" y1="232.59" x2="75.30" y2="232.59" stroke="#222" stroke-width="0.35"/>
<text x="72.60" y="233.59" font-size="3.1" text-anchor="end" fill="#2a2a2a" stroke="#2a2a2a" stroke-width="0.05">-0.25</text>
<line x1="74.10" y1="240.50" x2="75.30" y2="240.50" stroke="#222" stroke-width="0.35"/>
<text x="72.60" y="241.50" font-size="3.1" text-anchor="end" fill="#2a2a2a" stroke="#2a2a2a" stroke-width="0.05">-0.30</text>
<path d="M75.00 193.00C75.50 193.22 77.00 194.03 78.00 194.30C79.00 194.57 79.83 194.73 81.00 194.60C82.17 194.47 83.50 193.93 85.00 193.50C86.50 193.07 88.33 192.42 90.00 192.00C91.67 191.58 93.33 191.12 95.00 191.00C96.67 190.88 98.33 191.27 100.00 191.30C101.67 191.33 103.33 191.12 105.00 191.20C106.67 191.28 108.50 191.67 110.00 191.80C111.50 191.93 112.90 191.97 114.00 192.00C115.10 192.03 115.95 192.83 116.60 192.00C117.25 191.17 117.52 190.28 117.90 187.00C118.28 183.72 118.57 172.47 118.90 172.30C119.23 172.13 119.55 182.38 119.90 186.00C120.25 189.62 120.48 192.17 121.00 194.00C121.52 195.83 122.25 196.23 123.00 197.00C123.75 197.77 124.67 198.27 125.50 198.60C126.33 198.93 127.20 198.83 128.00 199.00C128.80 199.17 129.63 198.93 130.30 199.60C130.97 200.27 131.38 200.93 132.00 203.00C132.62 205.07 133.33 208.67 134.00 212.00C134.67 215.33 135.42 220.45 136.00 223.00C136.58 225.55 136.83 226.48 137.50 227.30C138.17 228.12 139.18 227.90 140.00 227.90C140.82 227.90 141.73 228.28 142.40 227.30C143.07 226.32 143.40 224.72 144.00 222.00C144.60 219.28 145.33 213.92 146.00 211.00C146.67 208.08 147.25 205.95 148.00 204.50C148.75 203.05 149.75 202.50 150.50 202.30C151.25 202.10 151.82 202.82 152.50 203.30C153.18 203.78 153.93 205.25 154.60 205.20C155.27 205.15 155.85 204.53 156.50 203.00C157.15 201.47 157.83 199.17 158.50 196.00C159.17 192.83 159.90 187.63 160.50 184.00C161.10 180.37 161.72 175.03 162.10 174.20C162.48 173.37 162.62 175.87 162.80 179.00C162.98 182.13 163.13 190.67 163.20 193.00" fill="none" stroke="#f2665b" stroke-width="1.05" stroke-linejoin="round"/>
<path d="M75.00 193.00C75.50 193.22 77.00 194.03 78.00 194.30C79.00 194.57 79.83 194.73 81.00 194.60C82.17 194.47 83.50 193.93 85.00 193.50C86.50 193.07 88.33 192.42 90.00 192.00C91.67 191.58 93.33 191.12 95.00 191.00C96.67 190.88 98.33 191.27 100.00 191.30C101.67 191.33 103.33 191.12 105.00 191.20C106.67 191.28 108.50 191.67 110.00 191.80C111.50 191.93 112.90 191.97 114.00 192.00C115.10 192.03 115.95 192.83 116.60 192.00C117.25 191.17 117.52 190.28 117.90 187.00C118.28 183.72 118.57 172.47 118.90 172.30C119.23 172.13 119.55 182.38 119.90 186.00C120.25 189.62 120.48 192.17 121.00 194.00C121.52 195.83 122.25 196.23 123.00 197.00C123.75 197.77 124.67 198.27 125.50 198.60C126.33 198.93 127.20 198.83 128.00 199.00C128.80 199.17 129.63 198.93 130.30 199.60C130.97 200.27 131.38 200.93 132.00 203.00C132.62 205.07 133.33 208.67 134.00 212.00C134.67 215.33 135.42 220.45 136.00 223.00C136.58 225.55 136.83 226.48 137.50 227.30C138.17 228.12 139.18 227.90 140.00 227.90C140.82 227.90 141.73 228.28 142.40 227.30C143.07 226.32 143.40 224.72 144.00 222.00C144.60 219.28 145.33 213.92 146.00 211.00C146.67 208.08 147.25 205.95 148.00 204.50C148.75 203.05 149.75 202.50 150.50 202.30C151.25 202.10 151.82 202.82 152.50 203.30C153.18 203.78 153.93 205.25 154.60 205.20C155.27 205.15 155.85 204.53 156.50 203.00C157.15 201.47 157.83 199.17 158.50 196.00C159.17 192.83 159.90 187.63 160.50 184.00C161.10 180.37 161.72 175.03 162.10 174.20C162.48 173.37 162.62 175.87 162.80 179.00C162.98 182.13 163.13 190.67 163.20 193.00" fill="none" stroke="#4496e6" stroke-width="1.15" stroke-dasharray="2.6 1.9"/>
<path d="M75.00 193.00C75.50 193.22 77.00 194.03 78.00 194.30C79.00 194.57 79.83 194.73 81.00 194.60C82.17 194.47 83.50 193.93 85.00 193.50C86.50 193.07 88.33 192.42 90.00 192.00C91.67 191.58 93.33 191.12 95.00 191.00C96.67 190.88 98.33 191.27 100.00 191.30C101.67 191.33 103.33 191.12 105.00 191.20C106.67 191.28 108.50 191.67 110.00 191.80C111.50 191.93 112.90 191.97 114.00 192.00C115.10 192.03 115.95 192.83 116.60 192.00C117.25 191.17 117.52 190.28 117.90 187.00C118.28 183.72 118.57 172.47 118.90 172.30C119.23 172.13 119.55 182.38 119.90 186.00C120.25 189.62 120.48 192.17 121.00 194.00C121.52 195.83 122.25 196.23 123.00 197.00C123.75 197.77 124.67 198.27 125.50 198.60C126.33 198.93 127.20 198.83 128.00 199.00C128.80 199.17 129.63 198.93 130.30 199.60C130.97 200.27 131.38 200.93 132.00 203.00C132.62 205.07 133.33 208.67 134.00 212.00C134.67 215.33 135.42 220.45 136.00 223.00C136.58 225.55 136.83 226.48 137.50 227.30C138.17 228.12 139.18 227.90 140.00 227.90C140.82 227.90 141.73 228.28 142.40 227.30C143.07 226.32 143.40 224.72 144.00 222.00C144.60 219.28 145.33 213.92 146.00 211.00C146.67 208.08 147.25 205.95 148.00 204.50C148.75 203.05 149.75 202.50 150.50 202.30C151.25 202.10 151.82 202.82 152.50 203.30C153.18 203.78 153.93 205.25 154.60 205.20C155.27 205.15 155.85 204.53 156.50 203.00C157.15 201.47 157.83 199.17 158.50 196.00C159.17 192.83 159.90 187.63 160.50 184.00C161.10 180.37 161.72 175.03 162.10 174.20C162.48 173.37 162.62 175.87 162.80 179.00C162.98 182.13 163.13 190.67 163.20 193.00" fill="none" stroke="#8fe0a4" stroke-width="0.8" stroke-dasharray="0.8 3.7" stroke-dashoffset="-3.0"/>
<circle cx="77.00" cy="195.50" r="0.85" fill="none" stroke="#8c8c8c" stroke-width="0.4"/>
<circle cx="79.00" cy="196.20" r="0.85" fill="none" stroke="#8c8c8c" stroke-width="0.4"/>
<circle cx="81.00" cy="196.00" r="0.85" fill="none" stroke="#8c8c8c" stroke-width="0.4"/>
<circle cx="84.00" cy="194.50" r="0.85" fill="none" stroke="#8c8c8c" stroke-width="0.4"/>
<circle cx="87.00" cy="193.00" r="0.85" fill="none" stroke="#8c8c8c" stroke-width="0.4"/>
<circle cx="90.00" cy="192.00" r="0.85" fill="none" stroke="#8c8c8c" stroke-width="0.4"/>
<circle cx="93.00" cy="191.00" r="0.85" fill="none" stroke="#8c8c8c" stroke-width="0.4"/>
<circle cx="96.00" cy="190.50" r="0.85" fill="none" stroke="#8c8c8c" stroke-width="0.4"/>
<circle cx="99.00" cy="190.60" r="0.85" fill="none" stroke="#8c8c8c" stroke-width="0.4"/>
<circle cx="102.00" cy="190.80" r="0.85" fill="none" stroke="#8c8c8c" stroke-width="0.4"/>
<circle cx="105.00" cy="191.00" r="0.85" fill="none" stroke="#8c8c8c" stroke-width="0.4"/>
<circle cx="108.00" cy="191.30" r="0.85" fill="none" stroke="#8c8c8c" stroke-width="0.4"/>
<circle cx="111.40" cy="192.80" r="0.85" fill="none" stroke="#8c8c8c" stroke-width="0.4"/>
<circle cx="113.20" cy="193.00" r="0.85" fill="none" stroke="#8c8c8c" stroke-width="0.4"/>
<circle cx="115.00" cy="193.00" r="0.85" fill="none" stroke="#8c8c8c" stroke-width="0.4"/>
<circle cx="121.50" cy="190.00" r="0.85" fill="none" stroke="#8c8c8c" stroke-width="0.4"/>
<circle cx="123.00" cy="195.00" r="0.85" fill="none" stroke="#8c8c8c" stroke-width="0.4"/>
<circle cx="126.00" cy="199.50" r="0.85" fill="none" stroke="#8c8c8c" stroke-width="0.4"/>
<circle cx="128.00" cy="200.50" r="0.85" fill="none" stroke="#8c8c8c" stroke-width="0.4"/>
<circle cx="131.00" cy="203.00" r="0.85" fill="none" stroke="#8c8c8c" stroke-width="0.4"/>
<circle cx="133.00" cy="209.00" r="0.85" fill="none" stroke="#8c8c8c" stroke-width="0.4"/>
<circle cx="135.50" cy="219.00" r="0.85" fill="none" stroke="#8c8c8c" stroke-width="0.4"/>
<circle cx="140.30" cy="230.80" r="0.85" fill="none" stroke="#8c8c8c" stroke-width="0.4"/>
<circle cx="141.50" cy="230.60" r="0.85" fill="none" stroke="#8c8c8c" stroke-width="0.4"/>
<circle cx="146.00" cy="214.00" r="0.85" fill="none" stroke="#8c8c8c" stroke-width="0.4"/>
<circle cx="147.80" cy="199.80" r="0.85" fill="none" stroke="#8c8c8c" stroke-width="0.4"/>
<circle cx="149.50" cy="199.60" r="0.85" fill="none" stroke="#8c8c8c" stroke-width="0.4"/>
<circle cx="151.30" cy="199.60" r="0.85" fill="none" stroke="#8c8c8c" stroke-width="0.4"/>
<circle cx="153.00" cy="199.80" r="0.85" fill="none" stroke="#8c8c8c" stroke-width="0.4"/>
<circle cx="156.00" cy="196.00" r="0.85" fill="none" stroke="#8c8c8c" stroke-width="0.4"/>
<circle cx="157.50" cy="193.50" r="0.85" fill="none" stroke="#8c8c8c" stroke-width="0.4"/>
<circle cx="159.00" cy="190.00" r="0.85" fill="none" stroke="#8c8c8c" stroke-width="0.4"/>
<circle cx="160.50" cy="186.00" r="0.85" fill="none" stroke="#8c8c8c" stroke-width="0.4"/>
<circle cx="161.50" cy="180.00" r="0.85" fill="none" stroke="#8c8c8c" stroke-width="0.4"/>
<text x="64.60" y="204.40" font-size="4.05" text-anchor="middle" fill="#2a2a2a" transform="rotate(-90 64.60 204.40)" stroke="#2a2a2a" stroke-width="0.05">Vy (m/s)</text>
<text x="122.50" y="250.90" font-size="3.9" text-anchor="middle" fill="#2a2a2a" stroke="#2a2a2a" stroke-width="0.05">x (m)</text>
<circle cx="83.8" cy="221.4" r="0.9" fill="none" stroke="#8a8a8a" stroke-width="0.4"/>
<text x="89.00" y="222.70" font-size="4.0" text-anchor="start" fill="#2a2a2a" stroke="#2a2a2a" stroke-width="0.05">Exp</text>
<line x1="79.10" y1="226.50" x2="87.90" y2="226.50" stroke="#f2453a" stroke-width="0.8"/>
<text x="89.00" y="227.70" font-size="3.95" text-anchor="start" fill="#2a2a2a" stroke="#2a2a2a" stroke-width="0.05">Δt=0.01s</text>
<line x1="79.10" y1="231.40" x2="87.90" y2="231.40" stroke="#338ade" stroke-width="1.1" stroke-dasharray="2.5 3.2"/>
<text x="89.00" y="232.70" font-size="3.95" text-anchor="start" fill="#2a2a2a" stroke="#2a2a2a" stroke-width="0.05">Δt=0.02s</text>
<line x1="79.00" y1="235.80" x2="87.90" y2="235.80" stroke="#6fd08a" stroke-width="0.9" stroke-dasharray="0.9 2.25"/>
<text x="89.00" y="237.10" font-size="3.95" text-anchor="start" fill="#2a2a2a" stroke="#2a2a2a" stroke-width="0.05">Δt=0.04s</text>
<text x="123.20" y="237.40" font-size="4.45" text-anchor="middle" fill="#2a2a2a" stroke="#2a2a2a" stroke-width="0.05">(b) Line 2</text>
<rect x="191.3" y="84.7" width="87.39999999999998" height="70.3" fill="#fff" stroke="#606060" stroke-width="0.8"/>
<line x1="198.58" y1="155.00" x2="198.58" y2="154.20" stroke="#555" stroke-width="0.3"/>
<line x1="213.15" y1="155.00" x2="213.15" y2="154.20" stroke="#555" stroke-width="0.3"/>
<line x1="227.72" y1="155.00" x2="227.72" y2="154.20" stroke="#555" stroke-width="0.3"/>
<line x1="242.28" y1="155.00" x2="242.28" y2="154.20" stroke="#555" stroke-width="0.3"/>
<line x1="256.85" y1="155.00" x2="256.85" y2="154.20" stroke="#555" stroke-width="0.3"/>
<line x1="271.42" y1="155.00" x2="271.42" y2="154.20" stroke="#555" stroke-width="0.3"/>
<line x1="191.30" y1="91.73" x2="192.10" y2="91.73" stroke="#555" stroke-width="0.3"/>
<line x1="191.30" y1="105.79" x2="192.10" y2="105.79" stroke="#555" stroke-width="0.3"/>
<line x1="191.30" y1="119.85" x2="192.10" y2="119.85" stroke="#555" stroke-width="0.3"/>
<line x1="191.30" y1="133.91" x2="192.10" y2="133.91" stroke="#555" stroke-width="0.3"/>
<line x1="191.30" y1="147.97" x2="192.10" y2="147.97" stroke="#555" stroke-width="0.3"/>
<line x1="191.30" y1="155.00" x2="191.30" y2="153.80" stroke="#222" stroke-width="0.35"/>
<text x="191.30" y="159.10" font-size="3.1" text-anchor="middle" fill="#2a2a2a" stroke="#2a2a2a" stroke-width="0.05">0</text>
<line x1="205.87" y1="155.00" x2="205.87" y2="153.80" stroke="#222" stroke-width="0.35"/>
<text x="205.87" y="159.10" font-size="3.1" text-anchor="middle" fill="#2a2a2a" stroke="#2a2a2a" stroke-width="0.05">18</text>
<line x1="220.43" y1="155.00" x2="220.43" y2="153.80" stroke="#222" stroke-width="0.35"/>
<text x="220.43" y="159.10" font-size="3.1" text-anchor="middle" fill="#2a2a2a" stroke="#2a2a2a" stroke-width="0.05">36</text>
<line x1="235.00" y1="155.00" x2="235.00" y2="153.80" stroke="#222" stroke-width="0.35"/>
<text x="235.00" y="159.10" font-size="3.1" text-anchor="middle" fill="#2a2a2a" stroke="#2a2a2a" stroke-width="0.05">54</text>
<line x1="249.57" y1="155.00" x2="249.57" y2="153.80" stroke="#222" stroke-width="0.35"/>
<text x="249.57" y="159.10" font-size="3.1" text-anchor="middle" fill="#2a2a2a" stroke="#2a2a2a" stroke-width="0.05">72</text>
<line x1="264.13" y1="155.00" x2="264.13" y2="153.80" stroke="#222" stroke-width="0.35"/>
<text x="264.13" y="159.10" font-size="3.1" text-anchor="middle" fill="#2a2a2a" stroke="#2a2a2a" stroke-width="0.05">90</text>
<line x1="278.70" y1="155.00" x2="278.70" y2="153.80" stroke="#222" stroke-width="0.35"/>
<text x="278.70" y="159.10" font-size="3.1" text-anchor="middle" fill="#2a2a2a" stroke="#2a2a2a" stroke-width="0.05">108</text>
<line x1="191.30" y1="155.00" x2="192.50" y2="155.00" stroke="#222" stroke-width="0.35"/>
<text x="189.80" y="156.00" font-size="3.1" text-anchor="end" fill="#2a2a2a" stroke="#2a2a2a" stroke-width="0.05">0.0</text>
<line x1="191.30" y1="140.94" x2="192.50" y2="140.94" stroke="#222" stroke-width="0.35"/>
<text x="189.80" y="141.94" font-size="3.1" text-anchor="end" fill="#2a2a2a" stroke="#2a2a2a" stroke-width="0.05">0.1</text>
<line x1="191.30" y1="126.88" x2="192.50" y2="126.88" stroke="#222" stroke-width="0.35"/>
<text x="189.80" y="127.88" font-size="3.1" text-anchor="end" fill="#2a2a2a" stroke="#2a2a2a" stroke-width="0.05">0.2</text>
<line x1="191.30" y1="112.82" x2="192.50" y2="112.82" stroke="#222" stroke-width="0.35"/>
<text x="189.80" y="113.82" font-size="3.1" text-anchor="end" fill="#2a2a2a" stroke="#2a2a2a" stroke-width="0.05">0.3</text>
<line x1="191.30" y1="98.76" x2="192.50" y2="98.76" stroke="#222" stroke-width="0.35"/>
<text x="189.80" y="99.76" font-size="3.1" text-anchor="end" fill="#2a2a2a" stroke="#2a2a2a" stroke-width="0.05">0.4</text>
<line x1="191.30" y1="84.70" x2="192.50" y2="84.70" stroke="#222" stroke-width="0.35"/>
<text x="189.80" y="85.70" font-size="3.1" text-anchor="end" fill="#2a2a2a" stroke="#2a2a2a" stroke-width="0.05">0.5</text>
<clipPath id="ctr"><rect x="191.3" y="136.02" width="87.39999999999998" height="40"/></clipPath>
<clipPath id="cpk"><rect x="191.3" y="84.7" width="87.39999999999998" height="9.84"/></clipPath>
<path d="M191.30 155.00L191.47 150.51L191.65 144.76L191.82 138.53L192.00 132.12L192.17 125.72L192.35 119.50L192.52 113.60L192.70 108.14L192.87 103.24L193.05 98.99L193.22 95.48L193.40 92.76L193.57 90.90L193.75 89.92L193.92 89.81L194.10 90.31L194.27 91.36L194.45 92.92L194.62 94.96L194.80 97.44L194.97 100.31L195.15 103.51L195.32 106.96L195.50 110.60L195.67 114.35L195.84 118.14L196.02 121.88L196.19 125.52L196.37 128.98L196.54 132.21L196.72 135.14L196.89 137.75L197.07 139.99L197.24 141.85L197.42 143.31L197.59 144.40L197.77 145.13L197.94 145.55L198.12 145.71L198.29 145.71L198.47 145.59L198.64 145.22L198.82 144.55L198.99 143.52L199.17 142.12L199.34 140.33L199.52 138.15L199.69 135.60L199.87 132.72L200.04 129.54L200.21 126.11L200.39 122.50L200.56 118.77L200.74 114.98L200.91 111.22L201.09 107.56L201.26 104.07L201.44 100.82L201.61 97.90L201.79 95.35L201.96 93.23L202.14 91.58L202.31 90.45L202.49 89.86L202.66 89.81L202.84 90.29L203.01 91.29L203.19 92.78L203.36 94.73L203.54 97.10L203.71 99.84L203.89 102.89L204.06 106.18L204.24 109.66L204.41 113.24L204.58 116.85L204.76 120.43L204.93 123.91L205.11 127.21L205.28 130.29L205.46 133.09L205.63 135.58L205.81 137.72L205.98 139.49L206.16 140.89L206.33 141.93L206.51 142.63L206.68 143.02L206.86 143.18L207.03 143.18L207.21 143.06L207.38 142.71L207.56 142.07L207.73 141.09L207.91 139.75L208.08 138.04L208.26 135.96L208.43 133.53L208.61 130.78L208.78 127.74L208.95 124.47L209.13 121.02L209.30 117.45L209.48 113.84L209.65 110.25L209.83 106.75L210.00 103.42L210.18 100.32L210.35 97.53L210.53 95.09L210.70 93.07L210.88 91.50L211.05 90.42L211.23 89.85L211.40 89.81L211.58 90.29L211.75 91.29L211.93 92.78L212.10 94.73L212.28 97.10L212.45 99.84L212.63 102.89L212.80 106.18L212.98 109.66L213.15 113.24L213.32 116.85L213.50 120.43L213.67 123.91L213.85 127.21L214.02 130.29L214.20 133.09L214.37 135.58L214.55 137.72L214.72 139.49L214.90 140.89L215.07 141.93L215.25 142.63L215.42 143.02L215.60 143.18L215.77 143.18L215.95 143.06L216.12 142.71L216.30 142.07L216.47 141.09L216.65 139.75L216.82 138.04L217.00 135.96L217.17 133.53L217.35 130.78L217.52 127.74L217.69 124.47L217.87 121.02L218.04 117.45L218.22 113.84L218.39 110.25L218.57 106.75L218.74 103.42L218.92 100.32L219.09 97.53L219.27 95.09L219.44 93.07L219.62 91.50L219.79 90.42L219.97 89.85L220.14 89.81L220.32 90.29L220.49 91.29L220.67 92.78L220.84 94.73L221.02 97.10L221.19 99.84L221.37 102.89L221.54 106.18L221.72 109.66L221.89 113.24L222.06 116.85L222.24 120.43L222.41 123.91L222.59 127.21L222.76 130.29L222.94 133.09L223.11 135.58L223.29 137.72L223.46 139.49L223.64 140.89L223.81 141.93L223.99 142.63L224.16 143.02L224.34 143.18L224.51 143.18L224.69 143.06L224.86 142.71L225.04 142.07L225.21 141.09L225.39 139.75L225.56 138.04L225.74 135.96L225.91 133.53L226.09 130.78L226.26 127.74L226.43 124.47L226.61 121.02L226.78 117.45L226.96 113.84L227.13 110.25L227.31 106.75L227.48 103.42L227.66 100.32L227.83 97.53L228.01 95.09L228.18 93.07L228.36 91.50L228.53 90.42L228.71 89.85L228.88 89.81L229.06 90.29L229.23 91.29L229.41 92.78L229.58 94.73L229.76 97.10L229.93 99.84L230.11 102.89L230.28 106.18L230.46 109.66L230.63 113.24L230.80 116.85L230.98 120.43L231.15 123.91L231.33 127.21L231.50 130.29L231.68 133.09L231.85 135.58L232.03 137.72L232.20 139.49L232.38 140.89L232.55 141.93L232.73 142.63L232.90 143.02L233.08 143.18L233.25 143.18L233.43 143.06L233.60 142.71L233.78 142.07L233.95 141.09L234.13 139.75L234.30 138.04L234.48 135.96L234.65 133.53L234.83 130.78L235.00 127.74L235.17 124.47L235.35 121.02L235.52 117.45L235.70 113.84L235.87 110.25L236.05 106.75L236.22 103.42L236.40 100.32L236.57 97.53L236.75 95.09L236.92 93.07L237.10 91.50L237.27 90.42L237.45 89.85L237.62 89.81L237.80 90.29L237.97 91.29L238.15 92.78L238.32 94.73L238.50 97.10L238.67 99.84L238.85 102.89L239.02 106.18L239.20 109.66L239.37 113.24L239.54 116.85L239.72 120.43L239.89 123.91L240.07 127.21L240.24 130.29L240.42 133.09L240.59 135.58L240.77 137.72L240.94 139.49L241.12 140.89L241.29 141.93L241.47 142.63L241.64 143.02L241.82 143.18L241.99 143.18L242.17 143.06L242.34 142.71L242.52 142.07L242.69 141.09L242.87 139.75L243.04 138.04L243.22 135.96L243.39 133.53L243.57 130.78L243.74 127.74L243.91 124.47L244.09 121.02L244.26 117.45L244.44 113.84L244.61 110.25L244.79 106.75L244.96 103.42L245.14 100.32L245.31 97.53L245.49 95.09L245.66 93.07L245.84 91.50L246.01 90.42L246.19 89.85L246.36 89.81L246.54 90.29L246.71 91.29L246.89 92.78L247.06 94.73L247.24 97.10L247.41 99.84L247.59 102.89L247.76 106.18L247.94 109.66L248.11 113.24L248.28 116.85L248.46 120.43L248.63 123.91L248.81 127.21L248.98 130.29L249.16 133.09L249.33 135.58L249.51 137.72L249.68 139.49L249.86 140.89L250.03 141.93L250.21 142.63L250.38 143.02L250.56 143.18L250.73 143.18L250.91 143.06L251.08 142.71L251.26 142.07L251.43 141.09L251.61 139.75L251.78 138.04L251.96 135.96L252.13 133.53L252.31 130.78L252.48 127.74L252.65 124.47L252.83 121.02L253.00 117.45L253.18 113.84L253.35 110.25L253.53 106.75L253.70 103.42L253.88 100.32L254.05 97.53L254.23 95.09L254.40 93.07L254.58 91.50L254.75 90.42L254.93 89.85L255.10 89.81L255.28 90.29L255.45 91.29L255.63 92.78L255.80 94.73L255.98 97.10L256.15 99.84L256.33 102.89L256.50 106.18L256.68 109.66L256.85 113.24L257.02 116.85L257.20 120.43L257.37 123.91L257.55 127.21L257.72 130.29L257.90 133.09L258.07 135.58L258.25 137.72L258.42 139.49L258.60 140.89L258.77 141.93L258.95 142.63L259.12 143.02L259.30 143.18L259.47 143.18L259.65 143.06L259.82 142.71L260.00 142.07L260.17 141.09L260.35 139.75L260.52 138.04L260.70 135.96L260.87 133.53L261.05 130.78L261.22 127.74L261.39 124.47L261.57 121.02L261.74 117.45L261.92 113.84L262.09 110.25L262.27 106.75L262.44 103.42L262.62 100.32L262.79 97.53L262.97 95.09L263.14 93.07L263.32 91.50L263.49 90.42L263.67 89.85L263.84 89.81L264.02 90.29L264.19 91.29L264.37 92.78L264.54 94.73L264.72 97.10L264.89 99.84L265.07 102.89L265.24 106.18L265.42 109.66L265.59 113.24L265.76 116.85L265.94 120.43L266.11 123.91L266.29 127.21L266.46 130.29L266.64 133.09L266.81 135.58L266.99 137.72L267.16 139.49L267.34 140.89L267.51 141.93L267.69 142.63L267.86 143.02L268.04 143.18L268.21 143.18L268.39 143.06L268.56 142.71L268.74 142.07L268.91 141.09L269.09 139.75L269.26 138.04L269.44 135.96L269.61 133.53L269.79 130.78L269.96 127.74L270.13 124.47L270.31 121.02L270.48 117.45L270.66 113.84L270.83 110.25L271.01 106.75L271.18 103.42L271.36 100.32L271.53 97.53L271.71 95.09L271.88 93.07L272.06 91.50L272.23 90.42L272.41 89.85L272.58 89.81L272.76 90.29L272.93 91.29L273.11 92.78L273.28 94.73L273.46 97.10L273.63 99.84L273.81 102.89L273.98 106.18L274.16 109.66L274.33 113.24L274.50 116.85L274.68 120.43L274.85 123.91L275.03 127.21L275.20 130.29L275.38 133.09L275.55 135.58L275.73 137.72L275.90 139.49L276.08 140.89L276.25 141.93L276.43 142.63L276.60 143.02L276.78 143.18L276.95 143.18L277.13 143.06L277.30 142.71L277.48 142.07L277.65 141.09L277.83 139.75L278.00 138.04L278.18 135.96L278.35 133.53L278.53 130.78L278.70 127.74" fill="none" stroke="#2a2030" stroke-width="0.9" stroke-linejoin="round" clip-path="url(#ctr)"/>
<path d="M191.30 155.00L191.47 150.38L191.65 144.47L191.82 138.07L192.00 131.48L192.17 124.90L192.35 118.51L192.52 112.44L192.70 106.83L192.87 101.79L193.05 97.42L193.22 93.81L193.40 91.02L193.57 89.10L193.75 88.09L193.92 87.98L194.10 88.49L194.27 89.53L194.45 91.09L194.62 93.13L194.80 95.62L194.97 98.49L195.15 101.68L195.32 105.13L195.50 108.77L195.67 112.52L195.84 116.31L196.02 120.06L196.19 123.70L196.37 127.16L196.54 130.38L196.72 133.32L196.89 135.92L197.07 138.16L197.24 140.02L197.42 141.49L197.59 142.57L197.77 143.31L197.94 143.72L198.12 143.88L198.29 143.89L198.47 143.76L198.64 143.39L198.82 142.72L198.99 141.69L199.17 140.29L199.34 138.50L199.52 136.32L199.69 133.77L199.87 130.89L200.04 127.71L200.21 124.29L200.39 120.67L200.56 116.94L200.74 113.15L200.91 109.39L201.09 105.73L201.26 102.24L201.44 99.00L201.61 96.07L201.79 93.52L201.96 91.40L202.14 89.75L202.31 88.62L202.49 88.03L202.66 87.98L202.84 88.46L203.01 89.46L203.19 90.95L203.36 92.90L203.54 95.27L203.71 98.01L203.89 101.06L204.06 104.35L204.24 107.83L204.41 111.41L204.58 115.02L204.76 118.60L204.93 122.08L205.11 125.38L205.28 128.46L205.46 131.26L205.63 133.75L205.81 135.89L205.98 137.66L206.16 139.06L206.33 140.10L206.51 140.80L206.68 141.20L206.86 141.35L207.03 141.36L207.21 141.24L207.38 140.89L207.56 140.24L207.73 139.26L207.91 137.92L208.08 136.21L208.26 134.13L208.43 131.70L208.61 128.95L208.78 125.91L208.95 122.64L209.13 119.19L209.30 115.63L209.48 112.01L209.65 108.42L209.83 104.92L210.00 101.59L210.18 98.50L210.35 95.70L210.53 93.27L210.70 91.24L210.88 89.67L211.05 88.59L211.23 88.02L211.40 87.98L211.58 88.46L211.75 89.46L211.93 90.95L212.10 92.90L212.28 95.27L212.45 98.01L212.63 101.06L212.80 104.35L212.98 107.83L213.15 111.41L213.32 115.02L213.50 118.60L213.67 122.08L213.85 125.38L214.02 128.46L214.20 131.26L214.37 133.75L214.55 135.89L214.72 137.66L214.90 139.06L215.07 140.10L215.25 140.80L215.42 141.20L215.60 141.35L215.77 141.36L215.95 141.24L216.12 140.89L216.30 140.24L216.47 139.26L216.65 137.92L216.82 136.21L217.00 134.13L217.17 131.70L217.35 128.95L217.52 125.91L217.69 122.64L217.87 119.19L218.04 115.63L218.22 112.01L218.39 108.42L218.57 104.92L218.74 101.59L218.92 98.50L219.09 95.70L219.27 93.27L219.44 91.24L219.62 89.67L219.79 88.59L219.97 88.02L220.14 87.98L220.32 88.46L220.49 89.46L220.67 90.95L220.84 92.90L221.02 95.27L221.19 98.01L221.37 101.06L221.54 104.35L221.72 107.83L221.89 111.41L222.06 115.02L222.24 118.60L222.41 122.08L222.59 125.38L222.76 128.46L222.94 131.26L223.11 133.75L223.29 135.89L223.46 137.66L223.64 139.06L223.81 140.10L223.99 140.80L224.16 141.20L224.34 141.35L224.51 141.36L224.69 141.24L224.86 140.89L225.04 140.24L225.21 139.26L225.39 137.92L225.56 136.21L225.74 134.13L225.91 131.70L226.09 128.95L226.26 125.91L226.43 122.64L226.61 119.19L226.78 115.63L226.96 112.01L227.13 108.42L227.31 104.92L227.48 101.59L227.66 98.50L227.83 95.70L228.01 93.27L228.18 91.24L228.36 89.67L228.53 88.59L228.71 88.02L228.88 87.98L229.06 88.46L229.23 89.46L229.41 90.95L229.58 92.90L229.76 95.27L229.93 98.01L230.11 101.06L230.28 104.35L230.46 107.83L230.63 111.41L230.80 115.02L230.98 118.60L231.15 122.08L231.33 125.38L231.50 128.46L231.68 131.26L231.85 133.75L232.03 135.89L232.20 137.66L232.38 139.06L232.55 140.10L232.73 140.80L232.90 141.20L233.08 141.35L233.25 141.36L233.43 141.24L233.60 140.89L233.78 140.24L233.95 139.26L234.13 137.92L234.30 136.21L234.48 134.13L234.65 131.70L234.83 128.95L235.00 125.91L235.17 122.64L235.35 119.19L235.52 115.63L235.70 112.01L235.87 108.42L236.05 104.92L236.22 101.59L236.40 98.50L236.57 95.70L236.75 93.27L236.92 91.24L237.10 89.67L237.27 88.59L237.45 88.02L237.62 87.98L237.80 88.46L237.97 89.46L238.15 90.95L238.32 92.90L238.50 95.27L238.67 98.01L238.85 101.06L239.02 104.35L239.20 107.83L239.37 111.41L239.54 115.02L239.72 118.60L239.89 122.08L240.07 125.38L240.24 128.46L240.42 131.26L240.59 133.75L240.77 135.89L240.94 137.66L241.12 139.06L241.29 140.10L241.47 140.80L241.64 141.20L241.82 141.35L241.99 141.36L242.17 141.24L242.34 140.89L242.52 140.24L242.69 139.26L242.87 137.92L243.04 136.21L243.22 134.13L243.39 131.70L243.57 128.95L243.74 125.91L243.91 122.64L244.09 119.19L244.26 115.63L244.44 112.01L244.61 108.42L244.79 104.92L244.96 101.59L245.14 98.50L245.31 95.70L245.49 93.27L245.66 91.24L245.84 89.67L246.01 88.59L246.19 88.02L246.36 87.98L246.54 88.46L246.71 89.46L246.89 90.95L247.06 92.90L247.24 95.27L247.41 98.01L247.59 101.06L247.76 104.35L247.94 107.83L248.11 111.41L248.28 115.02L248.46 118.60L248.63 122.08L248.81 125.38L248.98 128.46L249.16 131.26L249.33 133.75L249.51 135.89L249.68 137.66L249.86 139.06L250.03 140.10L250.21 140.80L250.38 141.20L250.56 141.35L250.73 141.36L250.91 141.24L251.08 140.89L251.26 140.24L251.43 139.26L251.61 137.92L251.78 136.21L251.96 134.13L252.13 131.70L252.31 128.95L252.48 125.91L252.65 122.64L252.83 119.19L253.00 115.63L253.18 112.01L253.35 108.42L253.53 104.92L253.70 101.59L253.88 98.50L254.05 95.70L254.23 93.27L254.40 91.24L254.58 89.67L254.75 88.59L254.93 88.02L255.10 87.98L255.28 88.46L255.45 89.46L255.63 90.95L255.80 92.90L255.98 95.27L256.15 98.01L256.33 101.06L256.50 104.35L256.68 107.83L256.85 111.41L257.02 115.02L257.20 118.60L257.37 122.08L257.55 125.38L257.72 128.46L257.90 131.26L258.07 133.75L258.25 135.89L258.42 137.66L258.60 139.06L258.77 140.10L258.95 140.80L259.12 141.20L259.30 141.35L259.47 141.36L259.65 141.24L259.82 140.89L260.00 140.24L260.17 139.26L260.35 137.92L260.52 136.21L260.70 134.13L260.87 131.70L261.05 128.95L261.22 125.91L261.39 122.64L261.57 119.19L261.74 115.63L261.92 112.01L262.09 108.42L262.27 104.92L262.44 101.59L262.62 98.50L262.79 95.70L262.97 93.27L263.14 91.24L263.32 89.67L263.49 88.59L263.67 88.02L263.84 87.98L264.02 88.46L264.19 89.46L264.37 90.95L264.54 92.90L264.72 95.27L264.89 98.01L265.07 101.06L265.24 104.35L265.42 107.83L265.59 111.41L265.76 115.02L265.94 118.60L266.11 122.08L266.29 125.38L266.46 128.46L266.64 131.26L266.81 133.75L266.99 135.89L267.16 137.66L267.34 139.06L267.51 140.10L267.69 140.80L267.86 141.20L268.04 141.35L268.21 141.36L268.39 141.24L268.56 140.89L268.74 140.24L268.91 139.26L269.09 137.92L269.26 136.21L269.44 134.13L269.61 131.70L269.79 128.95L269.96 125.91L270.13 122.64L270.31 119.19L270.48 115.63L270.66 112.01L270.83 108.42L271.01 104.92L271.18 101.59L271.36 98.50L271.53 95.70L271.71 93.27L271.88 91.24L272.06 89.67L272.23 88.59L272.41 88.02L272.58 87.98L272.76 88.46L272.93 89.46L273.11 90.95L273.28 92.90L273.46 95.27L273.63 98.01L273.81 101.06L273.98 104.35L274.16 107.83L274.33 111.41L274.50 115.02L274.68 118.60L274.85 122.08L275.03 125.38L275.20 128.46L275.38 131.26L275.55 133.75L275.73 135.89L275.90 137.66L276.08 139.06L276.25 140.10L276.43 140.80L276.60 141.20L276.78 141.35L276.95 141.36L277.13 141.24L277.30 140.89L277.48 140.24L277.65 139.26L277.83 137.92L278.00 136.21L278.18 134.13L278.35 131.70L278.53 128.95L278.70 125.91" fill="none" stroke="#d23a86" stroke-width="0.9" stroke-linejoin="round" clip-path="url(#cpk)"/>
<defs><path id="wv" d="M191.30 155.00L191.47 150.48L191.65 144.69L191.82 138.42L192.00 131.97L192.17 125.53L192.35 119.27L192.52 113.33L192.70 107.84L192.87 102.91L193.05 98.63L193.22 95.09L193.40 92.36L193.57 90.48L193.75 89.50L193.92 89.39L194.10 89.88L194.27 90.90L194.45 92.43L194.62 94.43L194.80 96.87L194.97 99.68L195.15 102.81L195.32 106.19L195.50 109.76L195.67 113.43L195.84 117.14L196.02 120.82L196.19 124.38L196.37 127.77L196.54 130.93L196.72 133.81L196.89 136.36L197.07 138.56L197.24 140.38L197.42 141.82L197.59 142.88L197.77 143.60L197.94 144.00L198.12 144.16L198.29 144.17L198.47 144.04L198.64 143.69L198.82 143.03L198.99 142.02L199.17 140.64L199.34 138.89L199.52 136.75L199.69 134.26L199.87 131.43L200.04 128.32L200.21 124.96L200.39 121.42L200.56 117.76L200.74 114.05L200.91 110.36L201.09 106.78L201.26 103.36L201.44 100.18L201.61 97.31L201.79 94.81L201.96 92.73L202.14 91.12L202.31 90.02L202.49 89.43L202.66 89.38L202.84 89.86L203.01 90.83L203.19 92.29L203.36 94.20L203.54 96.52L203.71 99.20L203.89 102.19L204.06 105.41L204.24 108.82L204.41 112.32L204.58 115.86L204.76 119.36L204.93 122.76L205.11 126.00L205.28 129.01L205.46 131.76L205.63 134.19L205.81 136.29L205.98 138.02L206.16 139.39L206.33 140.41L206.51 141.09L206.68 141.48L206.86 141.63L207.03 141.64L207.21 141.52L207.38 141.18L207.56 140.55L207.73 139.59L207.91 138.28L208.08 136.60L208.26 134.56L208.43 132.19L208.61 129.49L208.78 126.52L208.95 123.32L209.13 119.94L209.30 116.45L209.48 112.91L209.65 109.39L209.83 105.97L210.00 102.71L210.18 99.68L210.35 96.94L210.53 94.56L210.70 92.58L210.88 91.04L211.05 89.98L211.23 89.43L211.40 89.38L211.58 89.86L211.75 90.83L211.93 92.29L212.10 94.20L212.28 96.52L212.45 99.20L212.63 102.19L212.80 105.41L212.98 108.82L213.15 112.32L213.32 115.86L213.50 119.36L213.67 122.76L213.85 126.00L214.02 129.01L214.20 131.76L214.37 134.19L214.55 136.29L214.72 138.02L214.90 139.39L215.07 140.41L215.25 141.09L215.42 141.48L215.60 141.63L215.77 141.64L215.95 141.52L216.12 141.18L216.30 140.55L216.47 139.59L216.65 138.28L216.82 136.60L217.00 134.56L217.17 132.19L217.35 129.49L217.52 126.52L217.69 123.32L217.87 119.94L218.04 116.45L218.22 112.91L218.39 109.39L218.57 105.97L218.74 102.71L218.92 99.68L219.09 96.94L219.27 94.56L219.44 92.58L219.62 91.04L219.79 89.98L219.97 89.43L220.14 89.38L220.32 89.86L220.49 90.83L220.67 92.29L220.84 94.20L221.02 96.52L221.19 99.20L221.37 102.19L221.54 105.41L221.72 108.82L221.89 112.32L222.06 115.86L222.24 119.36L222.41 122.76L222.59 126.00L222.76 129.01L222.94 131.76L223.11 134.19L223.29 136.29L223.46 138.02L223.64 139.39L223.81 140.41L223.99 141.09L224.16 141.48L224.34 141.63L224.51 141.64L224.69 141.52L224.86 141.18L225.04 140.55L225.21 139.59L225.39 138.28L225.56 136.60L225.74 134.56L225.91 132.19L226.09 129.49L226.26 126.52L226.43 123.32L226.61 119.94L226.78 116.45L226.96 112.91L227.13 109.39L227.31 105.97L227.48 102.71L227.66 99.68L227.83 96.94L228.01 94.56L228.18 92.58L228.36 91.04L228.53 89.98L228.71 89.43L228.88 89.38L229.06 89.86L229.23 90.83L229.41 92.29L229.58 94.20L229.76 96.52L229.93 99.20L230.11 102.19L230.28 105.41L230.46 108.82L230.63 112.32L230.80 115.86L230.98 119.36L231.15 122.76L231.33 126.00L231.50 129.01L231.68 131.76L231.85 134.19L232.03 136.29L232.20 138.02L232.38 139.39L232.55 140.41L232.73 141.09L232.90 141.48L233.08 141.63L233.25 141.64L233.43 141.52L233.60 141.18L233.78 140.55L233.95 139.59L234.13 138.28L234.30 136.60L234.48 134.56L234.65 132.19L234.83 129.49L235.00 126.52L235.17 123.32L235.35 119.94L235.52 116.45L235.70 112.91L235.87 109.39L236.05 105.97L236.22 102.71L236.40 99.68L236.57 96.94L236.75 94.56L236.92 92.58L237.10 91.04L237.27 89.98L237.45 89.43L237.62 89.38L237.80 89.86L237.97 90.83L238.15 92.29L238.32 94.20L238.50 96.52L238.67 99.20L238.85 102.19L239.02 105.41L239.20 108.82L239.37 112.32L239.54 115.86L239.72 119.36L239.89 122.76L240.07 126.00L240.24 129.01L240.42 131.76L240.59 134.19L240.77 136.29L240.94 138.02L241.12 139.39L241.29 140.41L241.47 141.09L241.64 141.48L241.82 141.63L241.99 141.64L242.17 141.52L242.34 141.18L242.52 140.55L242.69 139.59L242.87 138.28L243.04 136.60L243.22 134.56L243.39 132.19L243.57 129.49L243.74 126.52L243.91 123.32L244.09 119.94L244.26 116.45L244.44 112.91L244.61 109.39L244.79 105.97L244.96 102.71L245.14 99.68L245.31 96.94L245.49 94.56L245.66 92.58L245.84 91.04L246.01 89.98L246.19 89.43L246.36 89.38L246.54 89.86L246.71 90.83L246.89 92.29L247.06 94.20L247.24 96.52L247.41 99.20L247.59 102.19L247.76 105.41L247.94 108.82L248.11 112.32L248.28 115.86L248.46 119.36L248.63 122.76L248.81 126.00L248.98 129.01L249.16 131.76L249.33 134.19L249.51 136.29L249.68 138.02L249.86 139.39L250.03 140.41L250.21 141.09L250.38 141.48L250.56 141.63L250.73 141.64L250.91 141.52L251.08 141.18L251.26 140.55L251.43 139.59L251.61 138.28L251.78 136.60L251.96 134.56L252.13 132.19L252.31 129.49L252.48 126.52L252.65 123.32L252.83 119.94L253.00 116.45L253.18 112.91L253.35 109.39L253.53 105.97L253.70 102.71L253.88 99.68L254.05 96.94L254.23 94.56L254.40 92.58L254.58 91.04L254.75 89.98L254.93 89.43L255.10 89.38L255.28 89.86L255.45 90.83L255.63 92.29L255.80 94.20L255.98 96.52L256.15 99.20L256.33 102.19L256.50 105.41L256.68 108.82L256.85 112.32L257.02 115.86L257.20 119.36L257.37 122.76L257.55 126.00L257.72 129.01L257.90 131.76L258.07 134.19L258.25 136.29L258.42 138.02L258.60 139.39L258.77 140.41L258.95 141.09L259.12 141.48L259.30 141.63L259.47 141.64L259.65 141.52L259.82 141.18L260.00 140.55L260.17 139.59L260.35 138.28L260.52 136.60L260.70 134.56L260.87 132.19L261.05 129.49L261.22 126.52L261.39 123.32L261.57 119.94L261.74 116.45L261.92 112.91L262.09 109.39L262.27 105.97L262.44 102.71L262.62 99.68L262.79 96.94L262.97 94.56L263.14 92.58L263.32 91.04L263.49 89.98L263.67 89.43L263.84 89.38L264.02 89.86L264.19 90.83L264.37 92.29L264.54 94.20L264.72 96.52L264.89 99.20L265.07 102.19L265.24 105.41L265.42 108.82L265.59 112.32L265.76 115.86L265.94 119.36L266.11 122.76L266.29 126.00L266.46 129.01L266.64 131.76L266.81 134.19L266.99 136.29L267.16 138.02L267.34 139.39L267.51 140.41L267.69 141.09L267.86 141.48L268.04 141.63L268.21 141.64L268.39 141.52L268.56 141.18L268.74 140.55L268.91 139.59L269.09 138.28L269.26 136.60L269.44 134.56L269.61 132.19L269.79 129.49L269.96 126.52L270.13 123.32L270.31 119.94L270.48 116.45L270.66 112.91L270.83 109.39L271.01 105.97L271.18 102.71L271.36 99.68L271.53 96.94L271.71 94.56L271.88 92.58L272.06 91.04L272.23 89.98L272.41 89.43L272.58 89.38L272.76 89.86L272.93 90.83L273.11 92.29L273.28 94.20L273.46 96.52L273.63 99.20L273.81 102.19L273.98 105.41L274.16 108.82L274.33 112.32L274.50 115.86L274.68 119.36L274.85 122.76L275.03 126.00L275.20 129.01L275.38 131.76L275.55 134.19L275.73 136.29L275.90 138.02L276.08 139.39L276.25 140.41L276.43 141.09L276.60 141.48L276.78 141.63L276.95 141.64L277.13 141.52L277.30 141.18L277.48 140.55L277.65 139.59L277.83 138.28L278.00 136.60L278.18 134.56L278.35 132.19L278.53 129.49L278.70 126.52"/></defs>
<use href="#wv" fill="none" stroke="#f8c26e" stroke-width="0.95" stroke-linejoin="round"/>
<use href="#wv" fill="none" stroke="#9f8ef0" stroke-width="0.95" stroke-dasharray="1.75 1.65" stroke-linejoin="round"/>
<text x="182.10" y="121.70" font-size="4.0" text-anchor="middle" fill="#2a2a2a" transform="rotate(-90 182.10 121.70)" stroke="#2a2a2a" stroke-width="0.05">Velocity (m/s)</text>
<text x="235.30" y="164.50" font-size="3.6" text-anchor="middle" fill="#2a2a2a" stroke="#2a2a2a" stroke-width="0.05">Time (s)</text>
<text x="177.60" y="164.30" font-size="4.65" text-anchor="start" fill="#2a2a2a" stroke="#2a2a2a" stroke-width="0.05">(c) Velocity at Probe A</text>
<line x1="230.80" y1="147.30" x2="238.30" y2="147.30" stroke="#444" stroke-width="1.0"/>
<text x="239.80" y="148.50" font-size="3.55" text-anchor="start" fill="#2a2a2a" stroke="#2a2a2a" stroke-width="0.05">Ref</text>
<line x1="230.80" y1="151.40" x2="238.30" y2="151.40" stroke="#f7d040" stroke-width="1.0" stroke-dasharray="2.2 3.0"/>
<text x="239.80" y="152.60" font-size="3.55" text-anchor="start" fill="#2a2a2a" stroke="#2a2a2a" stroke-width="0.05">Fixed</text>
<line x1="251.90" y1="147.30" x2="259.70" y2="147.30" stroke="#5a6af0" stroke-width="1.0" stroke-dasharray="2.4 1 0.7 1"/>
<text x="261.40" y="148.50" font-size="3.55" text-anchor="start" fill="#2a2a2a" stroke="#2a2a2a" stroke-width="0.05">MaxCo</text>
<line x1="251.90" y1="151.40" x2="259.70" y2="151.40" stroke="#f77ad0" stroke-width="0.8" stroke-dasharray="0.7 0.9"/>
<text x="261.40" y="152.60" font-size="3.55" text-anchor="start" fill="#2a2a2a" stroke="#2a2a2a" stroke-width="0.05">MaxCo+K</text>
<rect x="191.3" y="169.4" width="87.39999999999998" height="70.4" fill="#fff" stroke="#606060" stroke-width="0.8"/>
<line x1="198.58" y1="239.80" x2="198.58" y2="239.00" stroke="#555" stroke-width="0.3"/>
<line x1="213.15" y1="239.80" x2="213.15" y2="239.00" stroke="#555" stroke-width="0.3"/>
<line x1="227.72" y1="239.80" x2="227.72" y2="239.00" stroke="#555" stroke-width="0.3"/>
<line x1="242.28" y1="239.80" x2="242.28" y2="239.00" stroke="#555" stroke-width="0.3"/>
<line x1="256.85" y1="239.80" x2="256.85" y2="239.00" stroke="#555" stroke-width="0.3"/>
<line x1="271.42" y1="239.80" x2="271.42" y2="239.00" stroke="#555" stroke-width="0.3"/>
<line x1="191.30" y1="176.44" x2="192.10" y2="176.44" stroke="#555" stroke-width="0.3"/>
<line x1="191.30" y1="190.52" x2="192.10" y2="190.52" stroke="#555" stroke-width="0.3"/>
<line x1="191.30" y1="204.60" x2="192.10" y2="204.60" stroke="#555" stroke-width="0.3"/>
<line x1="191.30" y1="218.68" x2="192.10" y2="218.68" stroke="#555" stroke-width="0.3"/>
<line x1="191.30" y1="232.76" x2="192.10" y2="232.76" stroke="#555" stroke-width="0.3"/>
<line x1="191.30" y1="239.80" x2="191.30" y2="238.60" stroke="#222" stroke-width="0.35"/>
<text x="191.30" y="243.90" font-size="3.1" text-anchor="middle" fill="#2a2a2a" stroke="#2a2a2a" stroke-width="0.05">0</text>
<line x1="205.87" y1="239.80" x2="205.87" y2="238.60" stroke="#222" stroke-width="0.35"/>
<text x="205.87" y="243.90" font-size="3.1" text-anchor="middle" fill="#2a2a2a" stroke="#2a2a2a" stroke-width="0.05">18</text>
<line x1="220.43" y1="239.80" x2="220.43" y2="238.60" stroke="#222" stroke-width="0.35"/>
<text x="220.43" y="243.90" font-size="3.1" text-anchor="middle" fill="#2a2a2a" stroke="#2a2a2a" stroke-width="0.05">36</text>
<line x1="235.00" y1="239.80" x2="235.00" y2="238.60" stroke="#222" stroke-width="0.35"/>
<text x="235.00" y="243.90" font-size="3.1" text-anchor="middle" fill="#2a2a2a" stroke="#2a2a2a" stroke-width="0.05">54</text>
<line x1="249.57" y1="239.80" x2="249.57" y2="238.60" stroke="#222" stroke-width="0.35"/>
<text x="249.57" y="243.90" font-size="3.1" text-anchor="middle" fill="#2a2a2a" stroke="#2a2a2a" stroke-width="0.05">72</text>
<line x1="264.13" y1="239.80" x2="264.13" y2="238.60" stroke="#222" stroke-width="0.35"/>
<text x="264.13" y="243.90" font-size="3.1" text-anchor="middle" fill="#2a2a2a" stroke="#2a2a2a" stroke-width="0.05">90</text>
<line x1="278.70" y1="239.80" x2="278.70" y2="238.60" stroke="#222" stroke-width="0.35"/>
<text x="278.70" y="243.90" font-size="3.1" text-anchor="middle" fill="#2a2a2a" stroke="#2a2a2a" stroke-width="0.05">108</text>
<line x1="191.30" y1="239.80" x2="192.50" y2="239.80" stroke="#222" stroke-width="0.35"/>
<text x="189.80" y="240.80" font-size="3.1" text-anchor="end" fill="#2a2a2a" stroke="#2a2a2a" stroke-width="0.05">0.000</text>
<line x1="191.30" y1="225.72" x2="192.50" y2="225.72" stroke="#222" stroke-width="0.35"/>
<text x="189.80" y="226.72" font-size="3.1" text-anchor="end" fill="#2a2a2a" stroke="#2a2a2a" stroke-width="0.05">0.015</text>
<line x1="191.30" y1="211.64" x2="192.50" y2="211.64" stroke="#222" stroke-width="0.35"/>
<text x="189.80" y="212.64" font-size="3.1" text-anchor="end" fill="#2a2a2a" stroke="#2a2a2a" stroke-width="0.05">0.030</text>
<line x1="191.30" y1="197.56" x2="192.50" y2="197.56" stroke="#222" stroke-width="0.35"/>
<text x="189.80" y="198.56" font-size="3.1" text-anchor="end" fill="#2a2a2a" stroke="#2a2a2a" stroke-width="0.05">0.045</text>
<line x1="191.30" y1="183.48" x2="192.50" y2="183.48" stroke="#222" stroke-width="0.35"/>
<text x="189.80" y="184.48" font-size="3.1" text-anchor="end" fill="#2a2a2a" stroke="#2a2a2a" stroke-width="0.05">0.060</text>
<line x1="191.30" y1="169.40" x2="192.50" y2="169.40" stroke="#222" stroke-width="0.35"/>
<text x="189.80" y="170.40" font-size="3.1" text-anchor="end" fill="#2a2a2a" stroke="#2a2a2a" stroke-width="0.05">0.075</text>
<path d="M191.30 239.60C191.40 236.67 191.70 226.22 191.90 222.00C192.10 217.78 192.25 213.63 192.50 214.30C192.75 214.97 193.08 222.80 193.40 226.00C193.72 229.20 194.03 233.83 194.40 233.50C194.77 233.17 195.18 229.92 195.60 224.00C196.02 218.08 196.47 204.73 196.90 198.00C197.33 191.27 197.82 183.60 198.20 183.60C198.58 183.60 198.85 192.77 199.20 198.00C199.55 203.23 199.92 210.58 200.30 215.00C200.68 219.42 201.08 224.33 201.50 224.50C201.92 224.67 202.40 218.12 202.80 216.00C203.20 213.88 203.55 211.30 203.90 211.80C204.25 212.30 204.58 216.58 204.90 219.00C205.22 221.42 205.45 226.63 205.80 226.30C206.15 225.97 206.58 220.88 207.00 217.00C207.42 213.12 207.85 206.37 208.30 203.00C208.75 199.63 209.32 197.05 209.70 196.80C210.08 196.55 210.30 199.97 210.60 201.50C210.90 203.03 211.23 207.25 211.50 206.00C211.77 204.75 211.95 198.43 212.20 194.00C212.45 189.57 212.77 180.33 213.00 179.40C213.23 178.47 213.39 186.30 213.59 188.40C213.80 190.50 214.02 189.73 214.24 192.00C214.45 194.27 214.66 199.23 214.88 202.00C215.09 204.77 215.29 208.43 215.52 208.60C215.75 208.77 215.97 205.05 216.26 203.00C216.55 200.95 216.95 198.10 217.25 196.30C217.55 194.50 217.82 193.12 218.04 192.20C218.26 191.28 218.40 190.87 218.59 190.80C218.77 190.73 218.95 191.43 219.13 191.80C219.31 192.17 219.48 193.47 219.67 193.00C219.87 192.53 220.08 191.08 220.32 189.00C220.55 186.92 220.83 183.32 221.06 180.50C221.28 177.68 221.45 172.00 221.65 172.10C221.85 172.20 222.04 177.78 222.25 181.10C222.46 184.42 222.68 188.52 222.90 192.00C223.12 195.48 223.33 199.23 223.55 202.00C223.77 204.77 223.97 208.43 224.20 208.60C224.43 208.77 224.66 205.05 224.95 203.00C225.24 200.95 225.65 198.10 225.95 196.30C226.25 194.50 226.53 193.12 226.75 192.20C226.97 191.28 227.12 190.87 227.30 190.80C227.48 190.73 227.67 191.43 227.85 191.80C228.03 192.17 228.20 193.47 228.40 193.00C228.60 192.53 228.82 191.08 229.05 189.00C229.28 186.92 229.58 182.90 229.80 180.50C230.03 178.10 230.20 174.08 230.40 174.60C230.60 175.12 230.79 180.70 231.00 183.60C231.21 186.50 231.43 188.93 231.65 192.00C231.87 195.07 232.08 199.23 232.30 202.00C232.52 204.77 232.72 208.43 232.95 208.60C233.18 208.77 233.41 205.05 233.70 203.00C233.99 200.95 234.40 198.10 234.70 196.30C235.00 194.50 235.28 193.12 235.50 192.20C235.72 191.28 235.87 190.87 236.05 190.80C236.23 190.73 236.42 191.43 236.60 191.80C236.78 192.17 236.95 193.47 237.15 193.00C237.35 192.53 237.57 191.08 237.80 189.00C238.03 186.92 238.33 182.87 238.55 180.50C238.78 178.13 238.95 174.25 239.15 174.80C239.35 175.35 239.54 180.93 239.75 183.80C239.96 186.67 240.18 188.97 240.40 192.00C240.62 195.03 240.83 199.23 241.05 202.00C241.27 204.77 241.47 208.43 241.70 208.60C241.93 208.77 242.16 205.05 242.45 203.00C242.74 200.95 243.15 198.10 243.45 196.30C243.75 194.50 244.03 193.12 244.25 192.20C244.47 191.28 244.62 190.87 244.80 190.80C244.98 190.73 245.17 191.43 245.35 191.80C245.53 192.17 245.70 193.47 245.90 193.00C246.10 192.53 246.32 191.08 246.55 189.00C246.78 186.92 247.08 182.87 247.30 180.50C247.53 178.13 247.70 174.25 247.90 174.80C248.10 175.35 248.29 180.93 248.50 183.80C248.70 186.67 248.93 188.97 249.14 192.00C249.36 195.03 249.57 199.23 249.79 202.00C250.00 204.77 250.20 208.43 250.44 208.60C250.67 208.77 250.89 205.05 251.18 203.00C251.47 200.95 251.88 198.10 252.18 196.30C252.47 194.50 252.75 193.12 252.97 192.20C253.19 191.28 253.34 190.87 253.52 190.80C253.70 190.73 253.88 191.43 254.06 191.80C254.25 192.17 254.41 193.47 254.61 193.00C254.81 192.53 255.03 191.08 255.26 189.00C255.49 186.92 255.78 182.87 256.00 180.50C256.23 178.13 256.40 174.25 256.60 174.80C256.80 175.35 256.99 180.93 257.20 183.80C257.40 186.67 257.63 188.97 257.84 192.00C258.06 195.03 258.27 199.23 258.49 202.00C258.70 204.77 258.90 208.43 259.14 208.60C259.37 208.77 259.59 205.05 259.88 203.00C260.17 200.95 260.58 198.10 260.88 196.30C261.17 194.50 261.45 193.12 261.67 192.20C261.89 191.28 262.04 190.87 262.22 190.80C262.40 190.73 262.58 191.43 262.76 191.80C262.95 192.17 263.11 193.47 263.31 193.00C263.51 192.53 263.73 191.08 263.96 189.00C264.19 186.92 264.48 182.80 264.70 180.50C264.93 178.20 265.10 174.58 265.30 175.20C265.50 175.82 265.69 181.40 265.90 184.20C266.10 187.00 266.33 189.03 266.54 192.00C266.76 194.97 266.97 199.23 267.19 202.00C267.40 204.77 267.60 208.43 267.84 208.60C268.07 208.77 268.29 205.05 268.58 203.00C268.87 200.95 269.28 198.10 269.58 196.30C269.87 194.50 270.15 193.12 270.37 192.20C270.59 191.28 270.74 190.87 270.92 190.80C271.10 190.73 271.28 191.43 271.46 191.80C271.65 192.17 271.81 193.47 272.01 193.00C272.21 192.53 272.43 191.08 272.66 189.00C272.89 186.92 273.18 182.77 273.40 180.50C273.63 178.23 273.80 174.75 274.00 175.40C274.20 176.05 274.39 181.63 274.60 184.40C274.81 187.17 275.03 189.07 275.25 192.00C275.47 194.93 275.68 199.23 275.90 202.00C276.12 204.77 276.32 208.43 276.55 208.60C276.78 208.77 277.01 205.05 277.30 203.00C277.59 200.95 278.13 197.42 278.30 196.30" fill="none" stroke="#2a2030" stroke-width="0.85" stroke-linejoin="round"/>
<defs><path id="wd" d="M191.30 239.60C191.40 236.67 191.70 226.22 191.90 222.00C192.10 217.78 192.25 213.63 192.50 214.30C192.75 214.97 193.08 222.80 193.40 226.00C193.72 229.20 194.03 233.83 194.40 233.50C194.77 233.17 195.18 229.92 195.60 224.00C196.02 218.08 196.47 204.82 196.90 198.00C197.33 191.18 197.82 183.10 198.20 183.10C198.58 183.10 198.85 192.68 199.20 198.00C199.55 203.32 199.92 210.75 200.30 215.00C200.68 219.25 201.08 223.25 201.50 223.50C201.92 223.75 202.40 218.25 202.80 216.50C203.20 214.75 203.55 212.58 203.90 213.00C204.25 213.42 204.58 217.00 204.90 219.00C205.22 221.00 205.45 225.50 205.80 225.00C206.15 224.50 206.58 219.83 207.00 216.00C207.42 212.17 207.85 205.40 208.30 202.00C208.75 198.60 209.32 196.02 209.70 195.60C210.08 195.18 210.30 198.18 210.60 199.50C210.90 200.82 211.23 204.58 211.50 203.50C211.77 202.42 211.95 197.18 212.20 193.00C212.45 188.82 212.77 179.33 213.00 178.40C213.23 177.47 213.39 185.30 213.59 187.40C213.80 189.50 214.02 188.73 214.24 191.00C214.45 193.27 214.66 198.33 214.88 201.00C215.09 203.67 215.29 206.92 215.52 207.00C215.75 207.08 215.97 203.58 216.26 201.50C216.55 199.42 216.95 196.38 217.25 194.50C217.55 192.62 217.82 191.15 218.04 190.20C218.26 189.25 218.40 188.90 218.59 188.80C218.77 188.70 218.95 189.30 219.13 189.60C219.31 189.90 219.48 190.95 219.67 190.60C219.87 190.25 220.08 189.27 220.32 187.50C220.55 185.73 220.83 182.73 221.06 180.00C221.28 177.27 221.45 171.08 221.65 171.10C221.85 171.12 222.04 176.78 222.25 180.10C222.46 183.42 222.68 187.52 222.90 191.00C223.12 194.48 223.33 198.33 223.55 201.00C223.77 203.67 223.97 206.92 224.20 207.00C224.43 207.08 224.66 203.58 224.95 201.50C225.24 199.42 225.65 196.38 225.95 194.50C226.25 192.62 226.53 191.15 226.75 190.20C226.97 189.25 227.12 188.90 227.30 188.80C227.48 188.70 227.67 189.30 227.85 189.60C228.03 189.90 228.20 190.95 228.40 190.60C228.60 190.25 228.82 189.27 229.05 187.50C229.28 185.73 229.58 182.32 229.80 180.00C230.03 177.68 230.20 173.17 230.40 173.60C230.60 174.03 230.79 179.70 231.00 182.60C231.21 185.50 231.43 187.93 231.65 191.00C231.87 194.07 232.08 198.33 232.30 201.00C232.52 203.67 232.72 206.92 232.95 207.00C233.18 207.08 233.41 203.58 233.70 201.50C233.99 199.42 234.40 196.38 234.70 194.50C235.00 192.62 235.28 191.15 235.50 190.20C235.72 189.25 235.87 188.90 236.05 188.80C236.23 188.70 236.42 189.30 236.60 189.60C236.78 189.90 236.95 190.95 237.15 190.60C237.35 190.25 237.57 189.27 237.80 187.50C238.03 185.73 238.33 182.28 238.55 180.00C238.78 177.72 238.95 173.33 239.15 173.80C239.35 174.27 239.54 179.93 239.75 182.80C239.96 185.67 240.18 187.97 240.40 191.00C240.62 194.03 240.83 198.33 241.05 201.00C241.27 203.67 241.47 206.92 241.70 207.00C241.93 207.08 242.16 203.58 242.45 201.50C242.74 199.42 243.15 196.38 243.45 194.50C243.75 192.62 244.03 191.15 244.25 190.20C244.47 189.25 244.62 188.90 244.80 188.80C244.98 188.70 245.17 189.30 245.35 189.60C245.53 189.90 245.70 190.95 245.90 190.60C246.10 190.25 246.32 189.27 246.55 187.50C246.78 185.73 247.08 182.28 247.30 180.00C247.53 177.72 247.70 173.33 247.90 173.80C248.10 174.27 248.29 179.93 248.50 182.80C248.70 185.67 248.93 187.97 249.14 191.00C249.36 194.03 249.57 198.33 249.79 201.00C250.00 203.67 250.20 206.92 250.44 207.00C250.67 207.08 250.89 203.58 251.18 201.50C251.47 199.42 251.88 196.38 252.18 194.50C252.47 192.62 252.75 191.15 252.97 190.20C253.19 189.25 253.34 188.90 253.52 188.80C253.70 188.70 253.88 189.30 254.06 189.60C254.25 189.90 254.41 190.95 254.61 190.60C254.81 190.25 255.03 189.27 255.26 187.50C255.49 185.73 255.78 182.28 256.00 180.00C256.23 177.72 256.40 173.33 256.60 173.80C256.80 174.27 256.99 179.93 257.20 182.80C257.40 185.67 257.63 187.97 257.84 191.00C258.06 194.03 258.27 198.33 258.49 201.00C258.70 203.67 258.90 206.92 259.14 207.00C259.37 207.08 259.59 203.58 259.88 201.50C260.17 199.42 260.58 196.38 260.88 194.50C261.17 192.62 261.45 191.15 261.67 190.20C261.89 189.25 262.04 188.90 262.22 188.80C262.40 188.70 262.58 189.30 262.76 189.60C262.95 189.90 263.11 190.95 263.31 190.60C263.51 190.25 263.73 189.27 263.96 187.50C264.19 185.73 264.48 182.22 264.70 180.00C264.93 177.78 265.10 173.67 265.30 174.20C265.50 174.73 265.69 180.40 265.90 183.20C266.10 186.00 266.33 188.03 266.54 191.00C266.76 193.97 266.97 198.33 267.19 201.00C267.40 203.67 267.60 206.92 267.84 207.00C268.07 207.08 268.29 203.58 268.58 201.50C268.87 199.42 269.28 196.38 269.58 194.50C269.87 192.62 270.15 191.15 270.37 190.20C270.59 189.25 270.74 188.90 270.92 188.80C271.10 188.70 271.28 189.30 271.46 189.60C271.65 189.90 271.81 190.95 272.01 190.60C272.21 190.25 272.43 189.27 272.66 187.50C272.89 185.73 273.18 182.18 273.40 180.00C273.63 177.82 273.80 173.83 274.00 174.40C274.20 174.97 274.39 180.63 274.60 183.40C274.81 186.17 275.03 188.07 275.25 191.00C275.47 193.93 275.68 198.33 275.90 201.00C276.12 203.67 276.32 206.92 276.55 207.00C276.78 207.08 277.01 203.58 277.30 201.50C277.59 199.42 278.13 195.67 278.30 194.50"/></defs>
<use href="#wd" fill="none" stroke="#f8c26e" stroke-width="0.95" stroke-linejoin="round"/>
<use href="#wd" fill="none" stroke="#9f8ef0" stroke-width="0.95" stroke-dasharray="1.75 1.65" stroke-linejoin="round"/>
<rect x="209.2" y="210.3" width="15.7" height="28.4" fill="#fff" stroke="#f25050" stroke-width="0.6" stroke-dasharray="0.7 0.7"/>
<path d="M210.7 211.2C212.2 222 215 237.2 219.0 237.8C221 238 222.6 235.5 224 233.4" fill="none" stroke="#333" stroke-width="0.9"/>
<path d="M211.3 213.2L215.6 222.8L222.9 216.4" fill="none" stroke="#f7d040" stroke-width="1.1" stroke-dasharray="2.2 2.2" stroke-dashoffset="1"/>
<path d="M210.9 211.2L215.6 216.6L223.4 209.6" fill="none" stroke="#5a6af0" stroke-width="1.0" stroke-dasharray="2.2 1 0.7 1"/>
<path d="M210.9 212.0L215.6 217.5L223.4 210.4" fill="none" stroke="#f77ad0" stroke-width="0.7" stroke-dasharray="0.7 0.9"/>
<path d="M222.9 204.8L218.6 208.7" stroke="#ee2a30" stroke-width="0.9"/><path d="M216.7 210.4L218.0 207.0L220.2 209.3Z" fill="#ee2a30"/>
<text x="182.10" y="206.00" font-size="4.0" text-anchor="middle" fill="#2a2a2a" transform="rotate(-90 182.10 206.00)" stroke="#2a2a2a" stroke-width="0.05">Velocity (m/s)</text>
<text x="235.20" y="249.60" font-size="3.6" text-anchor="middle" fill="#2a2a2a" stroke="#2a2a2a" stroke-width="0.05">Time (s)</text>
<text x="177.60" y="249.30" font-size="4.65" text-anchor="start" fill="#2a2a2a" stroke="#2a2a2a" stroke-width="0.05">(d) Velocity at Probe B</text>
<line x1="230.80" y1="231.70" x2="238.30" y2="231.70" stroke="#444" stroke-width="1.0"/>
<text x="239.80" y="232.90" font-size="3.55" text-anchor="start" fill="#2a2a2a" stroke="#2a2a2a" stroke-width="0.05">Ref</text>
<line x1="230.80" y1="236.10" x2="238.30" y2="236.10" stroke="#f7d040" stroke-width="1.0" stroke-dasharray="2.2 3.0"/>
<text x="239.80" y="237.30" font-size="3.55" text-anchor="start" fill="#2a2a2a" stroke="#2a2a2a" stroke-width="0.05">Fixed</text>
<line x1="251.90" y1="231.70" x2="259.70" y2="231.70" stroke="#5a6af0" stroke-width="1.0" stroke-dasharray="2.4 1 0.7 1"/>
<text x="261.40" y="232.90" font-size="3.55" text-anchor="start" fill="#2a2a2a" stroke="#2a2a2a" stroke-width="0.05">MaxCo</text>
<line x1="251.90" y1="236.10" x2="259.70" y2="236.10" stroke="#f77ad0" stroke-width="0.8" stroke-dasharray="0.7 0.9"/>
<text x="261.40" y="237.30" font-size="3.55" text-anchor="start" fill="#2a2a2a" stroke="#2a2a2a" stroke-width="0.05">MaxCo+K</text>
<rect x="296.4" y="83.4" width="88.80000000000001" height="71.5" fill="#fff" stroke="#606060" stroke-width="0.8"/>
<line x1="296.40" y1="154.90" x2="297.70" y2="154.90" stroke="#222" stroke-width="0.4"/>
<text x="294.10" y="156.35" font-size="3.1" text-anchor="end" fill="#2a2a2a" stroke="#2a2a2a" stroke-width="0.05">0</text>
<line x1="296.40" y1="145.96" x2="297.20" y2="145.96" stroke="#222" stroke-width="0.35"/>
<line x1="296.40" y1="137.03" x2="297.70" y2="137.03" stroke="#222" stroke-width="0.4"/>
<text x="294.10" y="138.47" font-size="3.1" text-anchor="end" fill="#2a2a2a" stroke="#2a2a2a" stroke-width="0.05">2000</text>
<line x1="296.40" y1="128.09" x2="297.20" y2="128.09" stroke="#222" stroke-width="0.35"/>
<line x1="296.40" y1="119.15" x2="297.70" y2="119.15" stroke="#222" stroke-width="0.4"/>
<text x="294.10" y="120.60" font-size="3.1" text-anchor="end" fill="#2a2a2a" stroke="#2a2a2a" stroke-width="0.05">4000</text>
<line x1="296.40" y1="110.21" x2="297.20" y2="110.21" stroke="#222" stroke-width="0.35"/>
<line x1="296.40" y1="101.28" x2="297.70" y2="101.28" stroke="#222" stroke-width="0.4"/>
<text x="294.10" y="102.73" font-size="3.1" text-anchor="end" fill="#2a2a2a" stroke="#2a2a2a" stroke-width="0.05">6000</text>
<line x1="296.40" y1="92.34" x2="297.20" y2="92.34" stroke="#222" stroke-width="0.35"/>
<line x1="296.40" y1="83.40" x2="297.70" y2="83.40" stroke="#222" stroke-width="0.4"/>
<text x="294.10" y="84.85" font-size="3.1" text-anchor="end" fill="#2a2a2a" stroke="#2a2a2a" stroke-width="0.05">8000</text>
<rect x="299.20" y="114.00" width="3.38" height="40.90" fill="#fbc492" stroke="#e0935a" stroke-width="0.45"/>
<text x="301.94" y="134.45" font-size="3.2" text-anchor="middle" fill="#222" transform="rotate(-90 301.94 134.45)" stroke="#222" stroke-width="0.1">4561.27</text>
<rect x="302.58" y="113.30" width="3.38" height="41.60" fill="#96e09a" stroke="#52b45a" stroke-width="0.45"/>
<text x="305.32" y="134.10" font-size="3.2" text-anchor="middle" fill="#222" transform="rotate(-90 305.32 134.10)" stroke="#222" stroke-width="0.1">4640.35</text>
<rect x="305.96" y="112.10" width="3.38" height="42.80" fill="#c9ade4" stroke="#9272c0" stroke-width="0.45"/>
<text x="308.70" y="133.50" font-size="3.2" text-anchor="middle" fill="#222" transform="rotate(-90 308.70 133.50)" stroke="#222" stroke-width="0.1">4775.12</text>
<rect x="309.34" y="112.90" width="3.38" height="42.00" fill="#fbfb8e" stroke="#d2d24a" stroke-width="0.45"/>
<text x="312.08" y="133.90" font-size="3.2" text-anchor="middle" fill="#222" transform="rotate(-90 312.08 133.90)" stroke="#222" stroke-width="0.1">4690.48</text>
<rect x="312.72" y="114.30" width="3.38" height="40.60" fill="#8cb6f3" stroke="#4a82d4" stroke-width="0.45"/>
<text x="315.46" y="134.60" font-size="3.2" text-anchor="middle" fill="#222" transform="rotate(-90 315.46 134.60)" stroke="#222" stroke-width="0.1">4530.66</text>
<rect x="316.10" y="114.90" width="3.38" height="40.00" fill="#faaaf3" stroke="#e06cda" stroke-width="0.45"/>
<text x="318.84" y="134.90" font-size="3.2" text-anchor="middle" fill="#222" transform="rotate(-90 318.84 134.90)" stroke="#222" stroke-width="0.1">4462.91</text>
<rect x="319.48" y="86.10" width="3.38" height="68.80" fill="#a9b182" stroke="#76804e" stroke-width="0.45"/>
<text x="322.22" y="120.50" font-size="3.2" text-anchor="middle" fill="#222" transform="rotate(-90 322.22 120.50)" stroke="#222" stroke-width="0.1">7695.83</text>
<rect x="328.90" y="132.80" width="3.38" height="22.10" fill="#fbc492" stroke="#e0935a" stroke-width="0.45"/>
<text x="331.64" y="143.85" font-size="3.2" text-anchor="middle" fill="#222" transform="rotate(-90 331.64 143.85)" stroke="#222" stroke-width="0.1">2472.56</text>
<rect x="332.28" y="132.80" width="3.38" height="22.10" fill="#96e09a" stroke="#52b45a" stroke-width="0.45"/>
<text x="335.02" y="143.85" font-size="3.2" text-anchor="middle" fill="#222" transform="rotate(-90 335.02 143.85)" stroke="#222" stroke-width="0.1">2468.31</text>
<rect x="335.66" y="134.20" width="3.38" height="20.70" fill="#c9ade4" stroke="#9272c0" stroke-width="0.45"/>
<text x="338.40" y="144.55" font-size="3.2" text-anchor="middle" fill="#222" transform="rotate(-90 338.40 144.55)" stroke="#222" stroke-width="0.1">2315.74</text>
<rect x="339.04" y="133.30" width="3.38" height="21.60" fill="#fbfb8e" stroke="#d2d24a" stroke-width="0.45"/>
<text x="341.78" y="144.10" font-size="3.2" text-anchor="middle" fill="#222" transform="rotate(-90 341.78 144.10)" stroke="#222" stroke-width="0.1">2416.09</text>
<rect x="342.42" y="134.20" width="3.38" height="20.70" fill="#8cb6f3" stroke="#4a82d4" stroke-width="0.45"/>
<text x="345.16" y="144.55" font-size="3.2" text-anchor="middle" fill="#222" transform="rotate(-90 345.16 144.55)" stroke="#222" stroke-width="0.1">2313.22</text>
<rect x="345.80" y="133.90" width="3.38" height="21.00" fill="#faaaf3" stroke="#e06cda" stroke-width="0.45"/>
<text x="348.54" y="144.40" font-size="3.2" text-anchor="middle" fill="#222" transform="rotate(-90 348.54 144.40)" stroke="#222" stroke-width="0.1">2348.67</text>
<rect x="349.18" y="119.30" width="3.38" height="35.60" fill="#a9b182" stroke="#76804e" stroke-width="0.45"/>
<text x="351.92" y="137.10" font-size="3.2" text-anchor="middle" fill="#222" transform="rotate(-90 351.92 137.10)" stroke="#222" stroke-width="0.1">3980.45</text>
<rect x="365.21" y="143.00" width="3.38" height="11.90" fill="#c9ade4" stroke="#9272c0" stroke-width="0.45"/>
<text x="367.95" y="148.95" font-size="3.2" text-anchor="middle" fill="#222" transform="rotate(-90 367.95 148.95)" stroke="#222" stroke-width="0.1">1331.25</text>
<rect x="368.59" y="143.70" width="3.38" height="11.20" fill="#fbfb8e" stroke="#d2d24a" stroke-width="0.45"/>
<text x="371.33" y="149.30" font-size="3.2" text-anchor="middle" fill="#222" transform="rotate(-90 371.33 149.30)" stroke="#222" stroke-width="0.1">1252.84</text>
<rect x="371.97" y="143.70" width="3.38" height="11.20" fill="#8cb6f3" stroke="#4a82d4" stroke-width="0.45"/>
<text x="374.71" y="149.30" font-size="3.2" text-anchor="middle" fill="#222" transform="rotate(-90 374.71 149.30)" stroke="#222" stroke-width="0.1">1250.36</text>
<line x1="296.40" y1="154.90" x2="385.20" y2="154.90" stroke="#4a4a4a" stroke-width="0.8"/>
<text x="310.60" y="159.70" font-size="2.8" text-anchor="middle" fill="#2a2a2a" stroke="#2a2a2a" stroke-width="0.05">Δt=0.01s</text>
<text x="340.40" y="159.70" font-size="2.8" text-anchor="middle" fill="#2a2a2a" stroke="#2a2a2a" stroke-width="0.05">Δt=0.02s</text>
<text x="370.80" y="159.70" font-size="2.8" text-anchor="middle" fill="#2a2a2a" stroke="#2a2a2a" stroke-width="0.05">Δt=0.04s</text>
<text x="286.70" y="119.40" font-size="3.8" text-anchor="middle" fill="#2a2a2a" transform="rotate(-90 286.70 119.40)" stroke="#2a2a2a" stroke-width="0.05">Computation time (s)</text>
<rect x="348.2" y="84.4" width="36.2" height="33.2" fill="#fff" stroke="#d0d0d0" stroke-width="0.3"/>
<rect x="349.2" y="85.25" width="8.5" height="3.5" fill="#fbc492" stroke="#e0935a" stroke-width="0.4"/>
<text x="358.60" y="88.25" font-size="3.7" text-anchor="start" fill="#2a2a2a" stroke="#2a2a2a" stroke-width="0.05">Euler_SIPC</text>
<rect x="349.2" y="89.83" width="8.5" height="3.5" fill="#96e09a" stroke="#52b45a" stroke-width="0.4"/>
<text x="358.60" y="92.83" font-size="3.7" text-anchor="start" fill="#2a2a2a" stroke="#2a2a2a" stroke-width="0.05">0.5-CN_SIPC</text>
<rect x="349.2" y="94.41" width="8.5" height="3.5" fill="#c9ade4" stroke="#9272c0" stroke-width="0.4"/>
<text x="358.60" y="97.41" font-size="3.7" text-anchor="start" fill="#2a2a2a" stroke="#2a2a2a" stroke-width="0.05">0.6-CN_SIPC</text>
<rect x="349.2" y="98.99" width="8.5" height="3.5" fill="#fbfb8e" stroke="#d2d24a" stroke-width="0.4"/>
<text x="358.60" y="101.99" font-size="3.7" text-anchor="start" fill="#2a2a2a" stroke="#2a2a2a" stroke-width="0.05">0.9-CN_SIPC</text>
<rect x="349.2" y="103.57" width="8.5" height="3.5" fill="#8cb6f3" stroke="#4a82d4" stroke-width="0.4"/>
<text x="358.60" y="106.57" font-size="3.7" text-anchor="start" fill="#2a2a2a" stroke="#2a2a2a" stroke-width="0.05">1.0-CN_SIPC</text>
<rect x="349.2" y="108.15" width="8.5" height="3.5" fill="#faaaf3" stroke="#e06cda" stroke-width="0.4"/>
<text x="358.60" y="111.15" font-size="3.7" text-anchor="start" fill="#2a2a2a" stroke="#2a2a2a" stroke-width="0.05">backward_SIPC</text>
<rect x="349.2" y="112.73" width="8.5" height="3.5" fill="#a9b182" stroke="#76804e" stroke-width="0.4"/>
<text x="358.60" y="115.73" font-size="3.7" text-anchor="start" fill="#2a2a2a" stroke="#2a2a2a" stroke-width="0.05">Euler_PISO</text>
<rect x="296.4" y="170.3" width="88.80000000000001" height="70.69999999999999" fill="#fff" stroke="#606060" stroke-width="0.8"/>
<line x1="296.40" y1="241.00" x2="297.70" y2="241.00" stroke="#222" stroke-width="0.4"/>
<text x="294.10" y="242.45" font-size="3.1" text-anchor="end" fill="#2a2a2a" stroke="#2a2a2a" stroke-width="0.05">0</text>
<line x1="296.40" y1="235.11" x2="297.20" y2="235.11" stroke="#222" stroke-width="0.35"/>
<line x1="296.40" y1="229.22" x2="297.70" y2="229.22" stroke="#222" stroke-width="0.4"/>
<text x="294.10" y="230.67" font-size="3.1" text-anchor="end" fill="#2a2a2a" stroke="#2a2a2a" stroke-width="0.05">1000</text>
<line x1="296.40" y1="223.32" x2="297.20" y2="223.32" stroke="#222" stroke-width="0.35"/>
<line x1="296.40" y1="217.43" x2="297.70" y2="217.43" stroke="#222" stroke-width="0.4"/>
<text x="294.10" y="218.88" font-size="3.1" text-anchor="end" fill="#2a2a2a" stroke="#2a2a2a" stroke-width="0.05">2000</text>
<line x1="296.40" y1="211.54" x2="297.20" y2="211.54" stroke="#222" stroke-width="0.35"/>
<line x1="296.40" y1="205.65" x2="297.70" y2="205.65" stroke="#222" stroke-width="0.4"/>
<text x="294.10" y="207.10" font-size="3.1" text-anchor="end" fill="#2a2a2a" stroke="#2a2a2a" stroke-width="0.05">3000</text>
<line x1="296.40" y1="199.76" x2="297.20" y2="199.76" stroke="#222" stroke-width="0.35"/>
<line x1="296.40" y1="193.87" x2="297.70" y2="193.87" stroke="#222" stroke-width="0.4"/>
<text x="294.10" y="195.32" font-size="3.1" text-anchor="end" fill="#2a2a2a" stroke="#2a2a2a" stroke-width="0.05">4000</text>
<line x1="296.40" y1="187.97" x2="297.20" y2="187.97" stroke="#222" stroke-width="0.35"/>
<line x1="296.40" y1="182.08" x2="297.70" y2="182.08" stroke="#222" stroke-width="0.4"/>
<text x="294.10" y="183.53" font-size="3.1" text-anchor="end" fill="#2a2a2a" stroke="#2a2a2a" stroke-width="0.05">5000</text>
<line x1="296.40" y1="176.19" x2="297.20" y2="176.19" stroke="#222" stroke-width="0.35"/>
<line x1="296.40" y1="170.30" x2="297.70" y2="170.30" stroke="#222" stroke-width="0.4"/>
<text x="294.10" y="171.75" font-size="3.1" text-anchor="end" fill="#2a2a2a" stroke="#2a2a2a" stroke-width="0.05">6000</text>
<rect x="300.40" y="201.36" width="11.8" height="39.64" fill="#fcc692" stroke="#e0935a" stroke-width="0.6"/>
<text x="307.50" y="219.98" font-size="3.6" text-anchor="middle" fill="#2a2a2a" transform="rotate(-90 307.50 219.98)" stroke="#2a2a2a" stroke-width="0.05">3364.49</text>
<rect x="312.20" y="176.23" width="11.8" height="64.77" fill="#98e09c" stroke="#52b45a" stroke-width="0.6"/>
<text x="319.30" y="209.21" font-size="3.6" text-anchor="middle" fill="#2a2a2a" transform="rotate(-90 319.30 209.21)" stroke="#2a2a2a" stroke-width="0.05">5496.76</text>
<rect x="324.00" y="195.33" width="11.8" height="45.67" fill="#cbb3e4" stroke="#9272c0" stroke-width="0.6"/>
<text x="331.10" y="216.96" font-size="3.6" text-anchor="middle" fill="#2a2a2a" transform="rotate(-90 331.10 216.96)" stroke="#2a2a2a" stroke-width="0.05">3875.82</text>
<rect x="344.70" y="197.78" width="11.8" height="43.22" fill="#fcc692" stroke="#e0935a" stroke-width="0.6"/>
<text x="351.80" y="218.19" font-size="3.6" text-anchor="middle" fill="#2a2a2a" transform="rotate(-90 351.80 218.19)" stroke="#2a2a2a" stroke-width="0.05">3667.54</text>
<rect x="356.50" y="175.97" width="11.8" height="65.03" fill="#98e09c" stroke="#52b45a" stroke-width="0.6"/>
<text x="363.60" y="209.08" font-size="3.6" text-anchor="middle" fill="#2a2a2a" transform="rotate(-90 363.60 209.08)" stroke="#2a2a2a" stroke-width="0.05">5518.86</text>
<rect x="368.30" y="194.25" width="11.8" height="46.75" fill="#cbb3e4" stroke="#9272c0" stroke-width="0.6"/>
<text x="375.40" y="216.42" font-size="3.6" text-anchor="middle" fill="#2a2a2a" transform="rotate(-90 375.40 216.42)" stroke="#2a2a2a" stroke-width="0.05">3967.73</text>
<line x1="296.40" y1="241.00" x2="385.20" y2="241.00" stroke="#4a4a4a" stroke-width="0.8"/>
<text x="317.00" y="245.30" font-size="2.8" text-anchor="middle" fill="#2a2a2a" stroke="#2a2a2a" stroke-width="0.05">T=10.8s</text>
<text x="362.30" y="245.30" font-size="2.8" text-anchor="middle" fill="#2a2a2a" stroke="#2a2a2a" stroke-width="0.05">T=2.7s</text>
<text x="286.70" y="205.50" font-size="3.8" text-anchor="middle" fill="#2a2a2a" transform="rotate(-90 286.70 205.50)" stroke="#2a2a2a" stroke-width="0.05">Computation time (s)</text>
<rect x="329.3" y="171.85" width="6.6" height="2.9" fill="#fcc692" stroke="#e0935a" stroke-width="0.4"/>
<text x="337.80" y="174.50" font-size="3.5" text-anchor="start" fill="#2a2a2a" stroke="#2a2a2a" stroke-width="0.05">MaxCo</text>
<rect x="329.3" y="176.05" width="6.6" height="2.9" fill="#98e09c" stroke="#52b45a" stroke-width="0.4"/>
<text x="337.80" y="178.70" font-size="3.5" text-anchor="start" fill="#2a2a2a" stroke="#2a2a2a" stroke-width="0.05">Fixed</text>
<rect x="329.3" y="180.25" width="6.6" height="2.9" fill="#cbb3e4" stroke="#9272c0" stroke-width="0.4"/>
<text x="337.80" y="182.90" font-size="3.5" text-anchor="start" fill="#2a2a2a" stroke="#2a2a2a" stroke-width="0.05">MaxCo+K</text>
</svg>
</body></html>
